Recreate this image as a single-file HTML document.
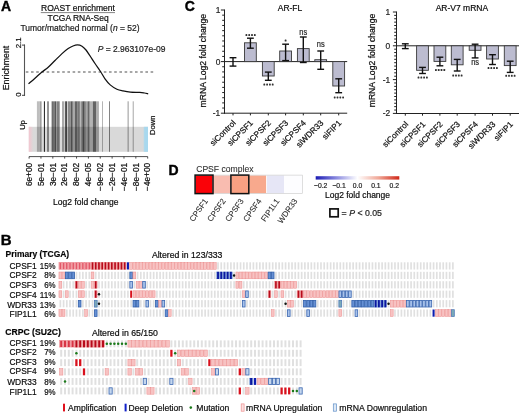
<!DOCTYPE html>
<html><head><meta charset="utf-8"><title>Figure</title>
<style>
html,body{margin:0;padding:0;background:#fff;}
body{width:520px;height:414px;overflow:hidden;}
svg{display:block;filter:blur(0.3px);}
text{font-family:"Liberation Sans", Arial, sans-serif;stroke:#222;stroke-width:0.22px;}
</style></head>
<body>
<svg width="520" height="414" viewBox="0 0 520 414">
<rect x="0" y="0" width="520" height="414" fill="#ffffff"/>
<text x="1.00" y="10.90" font-size="14.00" font-weight="bold" fill="#000" textLength="10.11" lengthAdjust="spacingAndGlyphs" style="stroke:#000;stroke-width:0.4px">A</text>
<text x="78.00" y="11.25" font-size="9.58" text-anchor="middle" textLength="74.00" lengthAdjust="spacingAndGlyphs">ROAST enrichment</text>
<line x1="40.80" y1="12.60" x2="115.00" y2="12.60" stroke="#333" stroke-width="0.6"/>
<text x="78.10" y="21.25" font-size="9.58" text-anchor="middle" textLength="61.20" lengthAdjust="spacingAndGlyphs">TCGA RNA-Seq</text>
<text x="20.5" y="30.5" font-size="9.4" fill="#1a1a1a" textLength="119" lengthAdjust="spacingAndGlyphs">Tumor/matched normal (<tspan font-style="italic">n</tspan> = 52)</text>
<line x1="24.50" y1="44.60" x2="24.50" y2="95.80" stroke="#555" stroke-width="1.1"/>
<line x1="22.00" y1="45.10" x2="25.00" y2="45.10" stroke="#444" stroke-width="1.0"/>
<line x1="22.00" y1="95.30" x2="25.00" y2="95.30" stroke="#444" stroke-width="1.0"/>
<text x="21.30" y="42.80" font-size="7.80" text-anchor="middle" transform="rotate(-90 21.30 42.80)">2.1</text>
<text x="21.30" y="94.50" font-size="7.80" text-anchor="middle" transform="rotate(-90 21.30 94.50)">0</text>
<text x="8.90" y="68.00" font-size="8.80" text-anchor="middle" transform="rotate(-90 8.90 68.00)">Enrichment</text>
<line x1="25.80" y1="72.00" x2="153.30" y2="72.00" stroke="#8a8a8a" stroke-width="1.7" stroke-dasharray="2.6 2.6"/>
<path d="M28.50 83.80 C29.58 82.87 32.75 80.17 35.00 78.20 C37.25 76.23 39.80 73.82 42.00 72.00 C44.20 70.18 46.03 69.22 48.20 67.30 C50.37 65.38 52.70 62.78 55.00 60.50 C57.30 58.22 59.80 55.60 62.00 53.60 C64.20 51.60 66.37 49.77 68.20 48.50 C70.03 47.23 71.47 46.60 73.00 46.00 C74.53 45.40 75.90 44.87 77.40 44.90 C78.90 44.93 80.57 45.35 82.00 46.20 C83.43 47.05 84.72 48.47 86.00 50.00 C87.28 51.53 88.20 53.15 89.70 55.40 C91.20 57.65 93.20 60.82 95.00 63.50 C96.80 66.18 98.83 68.95 100.50 71.50 C102.17 74.05 103.38 76.57 105.00 78.80 C106.62 81.03 108.22 83.17 110.20 84.90 C112.18 86.63 114.77 88.20 116.90 89.20 C119.03 90.20 120.75 90.42 123.00 90.90 C125.25 91.38 127.60 91.85 130.40 92.10 C133.20 92.35 137.45 92.25 139.80 92.40 C142.15 92.55 143.10 92.77 144.50 93.00 C145.90 93.23 147.58 93.67 148.20 93.80" fill="none" stroke="#111" stroke-width="1.25"/>
<text x="97.7" y="52.3" font-size="9.5" fill="#1a1a1a" textLength="67.7" lengthAdjust="spacingAndGlyphs"><tspan font-style="italic">P</tspan> = 2.963107e-09</text>
<rect x="36.90" y="101.30" width="2.80" height="50.50" fill="rgb(190,190,190)"/>
<rect x="39.70" y="101.30" width="1.90" height="50.50" fill="rgb(160,160,160)"/>
<rect x="43.90" y="101.30" width="1.10" height="50.50" fill="rgb(50,50,50)"/>
<rect x="47.10" y="101.30" width="1.80" height="50.50" fill="rgb(140,140,140)"/>
<rect x="51.60" y="101.30" width="2.30" height="50.50" fill="rgb(110,110,110)"/>
<rect x="54.30" y="101.30" width="1.60" height="50.50" fill="rgb(70,70,70)"/>
<rect x="56.30" y="101.30" width="3.40" height="50.50" fill="rgb(130,130,130)"/>
<rect x="62.00" y="101.30" width="2.40" height="50.50" fill="rgb(170,170,170)"/>
<rect x="65.10" y="101.30" width="1.90" height="50.50" fill="rgb(75,75,75)"/>
<rect x="67.60" y="101.30" width="3.20" height="50.50" fill="rgb(140,140,140)"/>
<rect x="70.80" y="101.30" width="2.00" height="50.50" fill="rgb(90,90,90)"/>
<rect x="72.80" y="101.30" width="2.00" height="50.50" fill="rgb(170,170,170)"/>
<rect x="74.80" y="101.30" width="2.90" height="50.50" fill="rgb(100,100,100)"/>
<rect x="77.70" y="101.30" width="2.00" height="50.50" fill="rgb(120,120,120)"/>
<rect x="79.70" y="101.30" width="0.70" height="50.50" fill="rgb(80,80,80)"/>
<rect x="81.20" y="101.30" width="1.90" height="50.50" fill="rgb(120,120,120)"/>
<rect x="83.10" y="101.30" width="1.60" height="50.50" fill="rgb(60,60,60)"/>
<rect x="84.70" y="101.30" width="1.50" height="50.50" fill="rgb(140,140,140)"/>
<rect x="86.20" y="101.30" width="1.90" height="50.50" fill="rgb(150,150,150)"/>
<rect x="88.10" y="101.30" width="1.60" height="50.50" fill="rgb(90,90,90)"/>
<rect x="89.70" y="101.30" width="3.10" height="50.50" fill="rgb(180,180,180)"/>
<rect x="92.80" y="101.30" width="3.20" height="50.50" fill="rgb(100,100,100)"/>
<rect x="96.00" y="101.30" width="2.90" height="50.50" fill="rgb(175,175,175)"/>
<rect x="102.10" y="101.30" width="0.70" height="50.50" fill="rgb(150,150,150)"/>
<rect x="109.30" y="101.30" width="0.70" height="50.50" fill="rgb(80,80,80)"/>
<rect x="127.50" y="101.30" width="1.30" height="50.50" fill="rgb(175,175,175)"/>
<rect x="132.80" y="101.30" width="0.70" height="50.50" fill="rgb(130,130,130)"/>
<defs><linearGradient id="gp" x1="0" x2="1"><stop offset="0" stop-color="#f4c6d0"/><stop offset="1" stop-color="#f4c6d0" stop-opacity="0"/></linearGradient><linearGradient id="gb" x1="0" x2="1"><stop offset="0" stop-color="#a8d8ee" stop-opacity="0.2"/><stop offset="0.3" stop-color="#a8d8ee"/><stop offset="1" stop-color="#a8d8ee"/></linearGradient><linearGradient id="cbar" x1="0" x2="1"><stop offset="0" stop-color="#1c1cb4"/><stop offset="0.25" stop-color="#8c8ce0"/><stop offset="0.5" stop-color="#ffffff"/><stop offset="0.75" stop-color="#f0a898"/><stop offset="1" stop-color="#d02818"/></linearGradient></defs>
<rect x="28.80" y="126.80" width="119.20" height="25.00" fill="#000" fill-opacity="0.15"/>
<rect x="28.80" y="126.80" width="4.50" height="25.00" fill="url(#gp)"/>
<rect x="143.30" y="126.80" width="4.70" height="25.00" fill="url(#gb)"/>
<text x="25.00" y="125.00" font-size="7.60" text-anchor="middle" transform="rotate(-90 25.00 125.00)">Up</text>
<text x="155.50" y="125.20" font-size="7.60" text-anchor="middle" transform="rotate(-90 155.50 125.20)">Down</text>
<line x1="29.10" y1="156.60" x2="147.70" y2="156.60" stroke="#222" stroke-width="0.8"/>
<line x1="29.10" y1="156.60" x2="29.10" y2="158.60" stroke="#222" stroke-width="0.8"/>
<text x="31.90" y="162.80" font-size="8.30" text-anchor="end" transform="rotate(-90 31.90 162.80)">6e+00</text>
<line x1="40.96" y1="156.60" x2="40.96" y2="158.60" stroke="#222" stroke-width="0.8"/>
<text x="43.76" y="162.80" font-size="8.30" text-anchor="end" transform="rotate(-90 43.76 162.80)">5e−01</text>
<line x1="52.82" y1="156.60" x2="52.82" y2="158.60" stroke="#222" stroke-width="0.8"/>
<text x="55.62" y="162.80" font-size="8.30" text-anchor="end" transform="rotate(-90 55.62 162.80)">3e−01</text>
<line x1="64.68" y1="156.60" x2="64.68" y2="158.60" stroke="#222" stroke-width="0.8"/>
<text x="67.48" y="162.80" font-size="8.30" text-anchor="end" transform="rotate(-90 67.48 162.80)">2e−01</text>
<line x1="76.54" y1="156.60" x2="76.54" y2="158.60" stroke="#222" stroke-width="0.8"/>
<text x="79.34" y="162.80" font-size="8.30" text-anchor="end" transform="rotate(-90 79.34 162.80)">8e−02</text>
<line x1="88.40" y1="156.60" x2="88.40" y2="158.60" stroke="#222" stroke-width="0.8"/>
<text x="91.20" y="162.80" font-size="8.30" text-anchor="end" transform="rotate(-90 91.20 162.80)">4e−05</text>
<line x1="100.26" y1="156.60" x2="100.26" y2="158.60" stroke="#222" stroke-width="0.8"/>
<text x="103.06" y="162.80" font-size="8.30" text-anchor="end" transform="rotate(-90 103.06 162.80)">−9e−02</text>
<line x1="112.12" y1="156.60" x2="112.12" y2="158.60" stroke="#222" stroke-width="0.8"/>
<text x="114.92" y="162.80" font-size="8.30" text-anchor="end" transform="rotate(-90 114.92 162.80)">−2e−01</text>
<line x1="123.98" y1="156.60" x2="123.98" y2="158.60" stroke="#222" stroke-width="0.8"/>
<text x="126.78" y="162.80" font-size="8.30" text-anchor="end" transform="rotate(-90 126.78 162.80)">−4e−01</text>
<line x1="135.84" y1="156.60" x2="135.84" y2="158.60" stroke="#222" stroke-width="0.8"/>
<text x="138.64" y="162.80" font-size="8.30" text-anchor="end" transform="rotate(-90 138.64 162.80)">−8e−01</text>
<line x1="147.70" y1="156.60" x2="147.70" y2="158.60" stroke="#222" stroke-width="0.8"/>
<text x="150.50" y="162.80" font-size="8.30" text-anchor="end" transform="rotate(-90 150.50 162.80)">−4e+00</text>
<text x="85.80" y="204.60" font-size="9.69" text-anchor="middle" textLength="65.40" lengthAdjust="spacingAndGlyphs">Log2 fold change</text>
<text x="184.70" y="11.00" font-size="14.00" font-weight="bold" fill="#000" textLength="10.11" lengthAdjust="spacingAndGlyphs" style="stroke:#000;stroke-width:0.4px">C</text>
<line x1="224.50" y1="9.50" x2="224.50" y2="113.70" stroke="#222" stroke-width="1.0"/>
<line x1="224.00" y1="113.20" x2="347.20" y2="113.20" stroke="#222" stroke-width="1.0"/>
<line x1="220.90" y1="10.00" x2="224.50" y2="10.00" stroke="#222" stroke-width="1.0"/>
<line x1="222.20" y1="15.16" x2="224.50" y2="15.16" stroke="#222" stroke-width="1.0"/>
<line x1="222.20" y1="20.32" x2="224.50" y2="20.32" stroke="#222" stroke-width="1.0"/>
<line x1="222.20" y1="25.48" x2="224.50" y2="25.48" stroke="#222" stroke-width="1.0"/>
<line x1="222.20" y1="30.64" x2="224.50" y2="30.64" stroke="#222" stroke-width="1.0"/>
<line x1="222.20" y1="35.80" x2="224.50" y2="35.80" stroke="#222" stroke-width="1.0"/>
<line x1="222.20" y1="40.96" x2="224.50" y2="40.96" stroke="#222" stroke-width="1.0"/>
<line x1="222.20" y1="46.12" x2="224.50" y2="46.12" stroke="#222" stroke-width="1.0"/>
<line x1="222.20" y1="51.28" x2="224.50" y2="51.28" stroke="#222" stroke-width="1.0"/>
<line x1="222.20" y1="56.44" x2="224.50" y2="56.44" stroke="#222" stroke-width="1.0"/>
<line x1="220.90" y1="61.60" x2="224.50" y2="61.60" stroke="#222" stroke-width="1.0"/>
<line x1="222.20" y1="66.76" x2="224.50" y2="66.76" stroke="#222" stroke-width="1.0"/>
<line x1="222.20" y1="71.92" x2="224.50" y2="71.92" stroke="#222" stroke-width="1.0"/>
<line x1="222.20" y1="77.08" x2="224.50" y2="77.08" stroke="#222" stroke-width="1.0"/>
<line x1="222.20" y1="82.24" x2="224.50" y2="82.24" stroke="#222" stroke-width="1.0"/>
<line x1="222.20" y1="87.40" x2="224.50" y2="87.40" stroke="#222" stroke-width="1.0"/>
<line x1="222.20" y1="92.56" x2="224.50" y2="92.56" stroke="#222" stroke-width="1.0"/>
<line x1="222.20" y1="97.72" x2="224.50" y2="97.72" stroke="#222" stroke-width="1.0"/>
<line x1="222.20" y1="102.88" x2="224.50" y2="102.88" stroke="#222" stroke-width="1.0"/>
<line x1="222.20" y1="108.04" x2="224.50" y2="108.04" stroke="#222" stroke-width="1.0"/>
<line x1="220.90" y1="113.20" x2="224.50" y2="113.20" stroke="#222" stroke-width="1.0"/>
<text x="220.30" y="13.00" font-size="9.58" text-anchor="end" fill="#222" textLength="4.67" lengthAdjust="spacingAndGlyphs">1</text>
<text x="220.30" y="64.60" font-size="9.58" text-anchor="end" fill="#222" textLength="4.67" lengthAdjust="spacingAndGlyphs">0</text>
<text x="220.30" y="116.20" font-size="9.58" text-anchor="end" fill="#222" textLength="7.47" lengthAdjust="spacingAndGlyphs">-1</text>
<line x1="224.50" y1="61.60" x2="347.20" y2="61.60" stroke="#222" stroke-width="1.0"/>
<line x1="233.00" y1="113.20" x2="233.00" y2="115.40" stroke="#222" stroke-width="1.0"/>
<line x1="250.40" y1="113.20" x2="250.40" y2="115.40" stroke="#222" stroke-width="1.0"/>
<line x1="268.30" y1="113.20" x2="268.30" y2="115.40" stroke="#222" stroke-width="1.0"/>
<line x1="285.60" y1="113.20" x2="285.60" y2="115.40" stroke="#222" stroke-width="1.0"/>
<line x1="303.30" y1="113.20" x2="303.30" y2="115.40" stroke="#222" stroke-width="1.0"/>
<line x1="320.70" y1="113.20" x2="320.70" y2="115.40" stroke="#222" stroke-width="1.0"/>
<line x1="338.70" y1="113.20" x2="338.70" y2="115.40" stroke="#222" stroke-width="1.0"/>
<text x="290.00" y="11.00" font-size="9.69" text-anchor="middle" textLength="24.56" lengthAdjust="spacingAndGlyphs">AR-FL</text>
<text x="206.00" y="60.60" font-size="8.50" text-anchor="middle" textLength="93.60" lengthAdjust="spacingAndGlyphs" transform="rotate(-90 206.00 60.60)">mRNA Log2 fold change</text>
<line x1="233.00" y1="57.70" x2="233.00" y2="66.10" stroke="#111" stroke-width="1.4"/>
<line x1="229.60" y1="57.70" x2="236.40" y2="57.70" stroke="#111" stroke-width="1.4"/>
<line x1="229.60" y1="66.10" x2="236.40" y2="66.10" stroke="#111" stroke-width="1.4"/>
<rect x="244.50" y="42.80" width="11.80" height="18.80" fill="#bcbcd0" stroke="#3a3a3a" stroke-width="0.9"/>
<line x1="250.40" y1="38.20" x2="250.40" y2="48.20" stroke="#111" stroke-width="1.4"/>
<line x1="247.00" y1="38.20" x2="253.80" y2="38.20" stroke="#111" stroke-width="1.4"/>
<line x1="247.00" y1="48.20" x2="253.80" y2="48.20" stroke="#111" stroke-width="1.4"/>
<rect x="245.50" y="34.10" width="1.8" height="2.0" rx="0.6" fill="#333"/>
<rect x="248.30" y="34.10" width="1.8" height="2.0" rx="0.6" fill="#333"/>
<rect x="251.10" y="34.10" width="1.8" height="2.0" rx="0.6" fill="#333"/>
<rect x="253.90" y="34.10" width="1.8" height="2.0" rx="0.6" fill="#333"/>
<rect x="262.40" y="61.60" width="11.80" height="14.40" fill="#bcbcd0" stroke="#3a3a3a" stroke-width="0.9"/>
<line x1="268.30" y1="72.10" x2="268.30" y2="80.30" stroke="#111" stroke-width="1.4"/>
<line x1="264.90" y1="72.10" x2="271.70" y2="72.10" stroke="#111" stroke-width="1.4"/>
<line x1="264.90" y1="80.30" x2="271.70" y2="80.30" stroke="#111" stroke-width="1.4"/>
<rect x="263.40" y="83.60" width="1.8" height="2.0" rx="0.6" fill="#333"/>
<rect x="266.20" y="83.60" width="1.8" height="2.0" rx="0.6" fill="#333"/>
<rect x="269.00" y="83.60" width="1.8" height="2.0" rx="0.6" fill="#333"/>
<rect x="271.80" y="83.60" width="1.8" height="2.0" rx="0.6" fill="#333"/>
<rect x="279.70" y="51.00" width="11.80" height="10.60" fill="#bcbcd0" stroke="#3a3a3a" stroke-width="0.9"/>
<line x1="285.60" y1="44.20" x2="285.60" y2="60.60" stroke="#111" stroke-width="1.4"/>
<line x1="282.20" y1="44.20" x2="289.00" y2="44.20" stroke="#111" stroke-width="1.4"/>
<line x1="282.20" y1="60.60" x2="289.00" y2="60.60" stroke="#111" stroke-width="1.4"/>
<rect x="284.70" y="39.50" width="1.8" height="2.0" rx="0.6" fill="#333"/>
<rect x="297.40" y="48.60" width="11.80" height="13.00" fill="#bcbcd0" stroke="#3a3a3a" stroke-width="0.9"/>
<line x1="303.30" y1="37.00" x2="303.30" y2="62.50" stroke="#111" stroke-width="1.4"/>
<line x1="299.90" y1="37.00" x2="306.70" y2="37.00" stroke="#111" stroke-width="1.4"/>
<line x1="299.90" y1="62.50" x2="306.70" y2="62.50" stroke="#111" stroke-width="1.4"/>
<text x="303.30" y="34.90" font-size="8.55" text-anchor="middle" fill="#333" textLength="7.92" lengthAdjust="spacingAndGlyphs">ns</text>
<rect x="314.80" y="59.70" width="11.80" height="1.90" fill="#bcbcd0" stroke="#3a3a3a" stroke-width="0.9"/>
<line x1="320.70" y1="51.00" x2="320.70" y2="69.30" stroke="#111" stroke-width="1.4"/>
<line x1="317.30" y1="51.00" x2="324.10" y2="51.00" stroke="#111" stroke-width="1.4"/>
<line x1="317.30" y1="69.30" x2="324.10" y2="69.30" stroke="#111" stroke-width="1.4"/>
<text x="320.70" y="47.10" font-size="8.55" text-anchor="middle" fill="#333" textLength="7.92" lengthAdjust="spacingAndGlyphs">ns</text>
<rect x="332.80" y="61.60" width="11.80" height="24.40" fill="#bcbcd0" stroke="#3a3a3a" stroke-width="0.9"/>
<line x1="338.70" y1="78.80" x2="338.70" y2="92.70" stroke="#111" stroke-width="1.4"/>
<line x1="335.30" y1="78.80" x2="342.10" y2="78.80" stroke="#111" stroke-width="1.4"/>
<line x1="335.30" y1="92.70" x2="342.10" y2="92.70" stroke="#111" stroke-width="1.4"/>
<rect x="333.80" y="96.40" width="1.8" height="2.0" rx="0.6" fill="#333"/>
<rect x="336.60" y="96.40" width="1.8" height="2.0" rx="0.6" fill="#333"/>
<rect x="339.40" y="96.40" width="1.8" height="2.0" rx="0.6" fill="#333"/>
<rect x="342.20" y="96.40" width="1.8" height="2.0" rx="0.6" fill="#333"/>
<text x="236.20" y="123.50" font-size="8.20" text-anchor="end" transform="rotate(-45 236.20 123.50)">siControl</text>
<text x="253.60" y="123.50" font-size="8.20" text-anchor="end" transform="rotate(-45 253.60 123.50)">siCPSF1</text>
<text x="271.50" y="123.50" font-size="8.20" text-anchor="end" transform="rotate(-45 271.50 123.50)">siCPSF2</text>
<text x="288.80" y="123.50" font-size="8.20" text-anchor="end" transform="rotate(-45 288.80 123.50)">siCPSF3</text>
<text x="306.50" y="123.50" font-size="8.20" text-anchor="end" transform="rotate(-45 306.50 123.50)">siCPSF4</text>
<text x="323.90" y="123.50" font-size="8.20" text-anchor="end" transform="rotate(-45 323.90 123.50)">siWDR33</text>
<text x="341.90" y="123.50" font-size="8.20" text-anchor="end" transform="rotate(-45 341.90 123.50)">siFIP1</text>
<line x1="396.50" y1="11.50" x2="396.50" y2="114.00" stroke="#222" stroke-width="1.0"/>
<line x1="396.00" y1="113.50" x2="519.00" y2="113.50" stroke="#222" stroke-width="1.0"/>
<line x1="392.90" y1="12.00" x2="396.50" y2="12.00" stroke="#222" stroke-width="1.0"/>
<line x1="394.20" y1="15.38" x2="396.50" y2="15.38" stroke="#222" stroke-width="1.0"/>
<line x1="394.20" y1="18.76" x2="396.50" y2="18.76" stroke="#222" stroke-width="1.0"/>
<line x1="394.20" y1="22.14" x2="396.50" y2="22.14" stroke="#222" stroke-width="1.0"/>
<line x1="394.20" y1="25.52" x2="396.50" y2="25.52" stroke="#222" stroke-width="1.0"/>
<line x1="394.20" y1="28.90" x2="396.50" y2="28.90" stroke="#222" stroke-width="1.0"/>
<line x1="394.20" y1="32.28" x2="396.50" y2="32.28" stroke="#222" stroke-width="1.0"/>
<line x1="394.20" y1="35.66" x2="396.50" y2="35.66" stroke="#222" stroke-width="1.0"/>
<line x1="394.20" y1="39.04" x2="396.50" y2="39.04" stroke="#222" stroke-width="1.0"/>
<line x1="394.20" y1="42.42" x2="396.50" y2="42.42" stroke="#222" stroke-width="1.0"/>
<line x1="392.90" y1="45.80" x2="396.50" y2="45.80" stroke="#222" stroke-width="1.0"/>
<line x1="394.20" y1="49.18" x2="396.50" y2="49.18" stroke="#222" stroke-width="1.0"/>
<line x1="394.20" y1="52.56" x2="396.50" y2="52.56" stroke="#222" stroke-width="1.0"/>
<line x1="394.20" y1="55.94" x2="396.50" y2="55.94" stroke="#222" stroke-width="1.0"/>
<line x1="394.20" y1="59.32" x2="396.50" y2="59.32" stroke="#222" stroke-width="1.0"/>
<line x1="394.20" y1="62.70" x2="396.50" y2="62.70" stroke="#222" stroke-width="1.0"/>
<line x1="394.20" y1="66.08" x2="396.50" y2="66.08" stroke="#222" stroke-width="1.0"/>
<line x1="394.20" y1="69.46" x2="396.50" y2="69.46" stroke="#222" stroke-width="1.0"/>
<line x1="394.20" y1="72.84" x2="396.50" y2="72.84" stroke="#222" stroke-width="1.0"/>
<line x1="394.20" y1="76.22" x2="396.50" y2="76.22" stroke="#222" stroke-width="1.0"/>
<line x1="392.90" y1="79.60" x2="396.50" y2="79.60" stroke="#222" stroke-width="1.0"/>
<line x1="394.20" y1="82.98" x2="396.50" y2="82.98" stroke="#222" stroke-width="1.0"/>
<line x1="394.20" y1="86.36" x2="396.50" y2="86.36" stroke="#222" stroke-width="1.0"/>
<line x1="394.20" y1="89.74" x2="396.50" y2="89.74" stroke="#222" stroke-width="1.0"/>
<line x1="394.20" y1="93.12" x2="396.50" y2="93.12" stroke="#222" stroke-width="1.0"/>
<line x1="394.20" y1="96.50" x2="396.50" y2="96.50" stroke="#222" stroke-width="1.0"/>
<line x1="394.20" y1="99.88" x2="396.50" y2="99.88" stroke="#222" stroke-width="1.0"/>
<line x1="394.20" y1="103.26" x2="396.50" y2="103.26" stroke="#222" stroke-width="1.0"/>
<line x1="394.20" y1="106.64" x2="396.50" y2="106.64" stroke="#222" stroke-width="1.0"/>
<line x1="394.20" y1="110.02" x2="396.50" y2="110.02" stroke="#222" stroke-width="1.0"/>
<line x1="392.90" y1="113.40" x2="396.50" y2="113.40" stroke="#222" stroke-width="1.0"/>
<text x="390.10" y="15.00" font-size="9.58" text-anchor="end" fill="#222" textLength="4.67" lengthAdjust="spacingAndGlyphs">1</text>
<text x="390.10" y="48.80" font-size="9.58" text-anchor="end" fill="#222" textLength="4.67" lengthAdjust="spacingAndGlyphs">0</text>
<text x="390.10" y="82.60" font-size="9.58" text-anchor="end" fill="#222" textLength="7.47" lengthAdjust="spacingAndGlyphs">-1</text>
<text x="390.10" y="116.40" font-size="9.58" text-anchor="end" fill="#222" textLength="7.47" lengthAdjust="spacingAndGlyphs">-2</text>
<line x1="396.50" y1="45.80" x2="519.00" y2="45.80" stroke="#222" stroke-width="1.0"/>
<line x1="405.30" y1="113.50" x2="405.30" y2="115.70" stroke="#222" stroke-width="1.0"/>
<line x1="422.50" y1="113.50" x2="422.50" y2="115.70" stroke="#222" stroke-width="1.0"/>
<line x1="439.90" y1="113.50" x2="439.90" y2="115.70" stroke="#222" stroke-width="1.0"/>
<line x1="457.20" y1="113.50" x2="457.20" y2="115.70" stroke="#222" stroke-width="1.0"/>
<line x1="475.10" y1="113.50" x2="475.10" y2="115.70" stroke="#222" stroke-width="1.0"/>
<line x1="492.50" y1="113.50" x2="492.50" y2="115.70" stroke="#222" stroke-width="1.0"/>
<line x1="510.20" y1="113.50" x2="510.20" y2="115.70" stroke="#222" stroke-width="1.0"/>
<text x="461.90" y="11.00" font-size="9.69" text-anchor="middle" textLength="52.42" lengthAdjust="spacingAndGlyphs">AR-V7 mRNA</text>
<text x="375.20" y="60.50" font-size="8.50" text-anchor="middle" textLength="93.60" lengthAdjust="spacingAndGlyphs" transform="rotate(-90 375.20 60.50)">mRNA Log2 fold change</text>
<line x1="405.30" y1="43.80" x2="405.30" y2="48.60" stroke="#111" stroke-width="1.4"/>
<line x1="401.90" y1="43.80" x2="408.70" y2="43.80" stroke="#111" stroke-width="1.4"/>
<line x1="401.90" y1="48.60" x2="408.70" y2="48.60" stroke="#111" stroke-width="1.4"/>
<rect x="416.60" y="45.80" width="11.80" height="24.50" fill="#bcbcd0" stroke="#3a3a3a" stroke-width="0.9"/>
<line x1="422.50" y1="67.40" x2="422.50" y2="73.50" stroke="#111" stroke-width="1.4"/>
<line x1="419.10" y1="67.40" x2="425.90" y2="67.40" stroke="#111" stroke-width="1.4"/>
<line x1="419.10" y1="73.50" x2="425.90" y2="73.50" stroke="#111" stroke-width="1.4"/>
<rect x="417.60" y="76.60" width="1.8" height="2.0" rx="0.6" fill="#333"/>
<rect x="420.40" y="76.60" width="1.8" height="2.0" rx="0.6" fill="#333"/>
<rect x="423.20" y="76.60" width="1.8" height="2.0" rx="0.6" fill="#333"/>
<rect x="426.00" y="76.60" width="1.8" height="2.0" rx="0.6" fill="#333"/>
<rect x="434.00" y="45.80" width="11.80" height="15.60" fill="#bcbcd0" stroke="#3a3a3a" stroke-width="0.9"/>
<line x1="439.90" y1="57.20" x2="439.90" y2="65.80" stroke="#111" stroke-width="1.4"/>
<line x1="436.50" y1="57.20" x2="443.30" y2="57.20" stroke="#111" stroke-width="1.4"/>
<line x1="436.50" y1="65.80" x2="443.30" y2="65.80" stroke="#111" stroke-width="1.4"/>
<rect x="435.00" y="69.00" width="1.8" height="2.0" rx="0.6" fill="#333"/>
<rect x="437.80" y="69.00" width="1.8" height="2.0" rx="0.6" fill="#333"/>
<rect x="440.60" y="69.00" width="1.8" height="2.0" rx="0.6" fill="#333"/>
<rect x="443.40" y="69.00" width="1.8" height="2.0" rx="0.6" fill="#333"/>
<rect x="451.30" y="45.80" width="11.80" height="19.00" fill="#bcbcd0" stroke="#3a3a3a" stroke-width="0.9"/>
<line x1="457.20" y1="59.40" x2="457.20" y2="71.00" stroke="#111" stroke-width="1.4"/>
<line x1="453.80" y1="59.40" x2="460.60" y2="59.40" stroke="#111" stroke-width="1.4"/>
<line x1="453.80" y1="71.00" x2="460.60" y2="71.00" stroke="#111" stroke-width="1.4"/>
<rect x="452.30" y="74.50" width="1.8" height="2.0" rx="0.6" fill="#333"/>
<rect x="455.10" y="74.50" width="1.8" height="2.0" rx="0.6" fill="#333"/>
<rect x="457.90" y="74.50" width="1.8" height="2.0" rx="0.6" fill="#333"/>
<rect x="460.70" y="74.50" width="1.8" height="2.0" rx="0.6" fill="#333"/>
<rect x="469.20" y="45.80" width="11.80" height="4.50" fill="#bcbcd0" stroke="#3a3a3a" stroke-width="0.9"/>
<line x1="475.10" y1="44.20" x2="475.10" y2="57.90" stroke="#111" stroke-width="1.4"/>
<line x1="471.70" y1="44.20" x2="478.50" y2="44.20" stroke="#111" stroke-width="1.4"/>
<line x1="471.70" y1="57.90" x2="478.50" y2="57.90" stroke="#111" stroke-width="1.4"/>
<text x="475.10" y="65.30" font-size="8.55" text-anchor="middle" fill="#333" textLength="7.92" lengthAdjust="spacingAndGlyphs">ns</text>
<rect x="486.60" y="45.80" width="11.80" height="13.20" fill="#bcbcd0" stroke="#3a3a3a" stroke-width="0.9"/>
<line x1="492.50" y1="54.70" x2="492.50" y2="64.50" stroke="#111" stroke-width="1.4"/>
<line x1="489.10" y1="54.70" x2="495.90" y2="54.70" stroke="#111" stroke-width="1.4"/>
<line x1="489.10" y1="64.50" x2="495.90" y2="64.50" stroke="#111" stroke-width="1.4"/>
<rect x="487.60" y="67.10" width="1.8" height="2.0" rx="0.6" fill="#333"/>
<rect x="490.40" y="67.10" width="1.8" height="2.0" rx="0.6" fill="#333"/>
<rect x="493.20" y="67.10" width="1.8" height="2.0" rx="0.6" fill="#333"/>
<rect x="496.00" y="67.10" width="1.8" height="2.0" rx="0.6" fill="#333"/>
<rect x="504.30" y="45.80" width="11.80" height="19.80" fill="#bcbcd0" stroke="#3a3a3a" stroke-width="0.9"/>
<line x1="510.20" y1="61.20" x2="510.20" y2="72.40" stroke="#111" stroke-width="1.4"/>
<line x1="506.80" y1="61.20" x2="513.60" y2="61.20" stroke="#111" stroke-width="1.4"/>
<line x1="506.80" y1="72.40" x2="513.60" y2="72.40" stroke="#111" stroke-width="1.4"/>
<rect x="505.30" y="74.80" width="1.8" height="2.0" rx="0.6" fill="#333"/>
<rect x="508.10" y="74.80" width="1.8" height="2.0" rx="0.6" fill="#333"/>
<rect x="510.90" y="74.80" width="1.8" height="2.0" rx="0.6" fill="#333"/>
<rect x="513.70" y="74.80" width="1.8" height="2.0" rx="0.6" fill="#333"/>
<text x="408.70" y="124.80" font-size="8.20" text-anchor="end" transform="rotate(-45 408.70 124.80)">siControl</text>
<text x="425.90" y="124.80" font-size="8.20" text-anchor="end" transform="rotate(-45 425.90 124.80)">siCPSF1</text>
<text x="443.30" y="124.80" font-size="8.20" text-anchor="end" transform="rotate(-45 443.30 124.80)">siCPSF2</text>
<text x="460.60" y="124.80" font-size="8.20" text-anchor="end" transform="rotate(-45 460.60 124.80)">siCPSF3</text>
<text x="478.50" y="124.80" font-size="8.20" text-anchor="end" transform="rotate(-45 478.50 124.80)">siCPSF4</text>
<text x="495.90" y="124.80" font-size="8.20" text-anchor="end" transform="rotate(-45 495.90 124.80)">siWDR33</text>
<text x="513.60" y="124.80" font-size="8.20" text-anchor="end" transform="rotate(-45 513.60 124.80)">siFIP1</text>
<text x="168.60" y="175.40" font-size="14.00" font-weight="bold" fill="#000" textLength="10.11" lengthAdjust="spacingAndGlyphs" style="stroke:#000;stroke-width:0.4px">D</text>
<text x="196.20" y="171.90" font-size="9.58" fill="#333" textLength="57.30" lengthAdjust="spacingAndGlyphs" style="stroke-width:0.1px">CPSF complex</text>
<rect x="195.10" y="175.10" width="17.90" height="18.50" fill="#fa0208" stroke="#ffffff" stroke-width="0.6"/>
<rect x="213.00" y="175.10" width="17.90" height="18.50" fill="#f9bcb0" stroke="#ffffff" stroke-width="0.6"/>
<rect x="230.90" y="175.10" width="17.90" height="18.50" fill="#f9a082" stroke="#ffffff" stroke-width="0.6"/>
<rect x="248.80" y="175.10" width="17.90" height="18.50" fill="#f8a98d" stroke="#ffffff" stroke-width="0.6"/>
<rect x="266.70" y="175.10" width="17.90" height="18.50" fill="#e6e6f6" stroke="#ffffff" stroke-width="0.6"/>
<rect x="284.60" y="175.10" width="17.90" height="18.50" fill="#fdfdff" stroke="#ffffff" stroke-width="0.6"/>
<rect x="195.10" y="175.10" width="107.40" height="18.50" fill="none" stroke="#c8c8c8" stroke-width="0.6"/>
<rect x="195.10" y="175.10" width="17.90" height="18.50" fill="none" stroke="#111" stroke-width="1.5"/>
<rect x="230.90" y="175.10" width="17.90" height="18.50" fill="none" stroke="#111" stroke-width="1.5"/>
<text x="208.25" y="201.00" font-size="8.00" text-anchor="end" fill="#2a2a2a" transform="rotate(-55 208.25 201.00)" style="stroke-width:0.08px">CPSF1</text>
<text x="226.15" y="201.00" font-size="8.00" text-anchor="end" fill="#2a2a2a" transform="rotate(-55 226.15 201.00)" style="stroke-width:0.08px">CPSF2</text>
<text x="244.05" y="201.00" font-size="8.00" text-anchor="end" fill="#2a2a2a" transform="rotate(-55 244.05 201.00)" style="stroke-width:0.08px">CPSF3</text>
<text x="261.95" y="201.00" font-size="8.00" text-anchor="end" fill="#2a2a2a" transform="rotate(-55 261.95 201.00)" style="stroke-width:0.08px">CPSF4</text>
<text x="279.85" y="201.00" font-size="8.00" text-anchor="end" fill="#2a2a2a" transform="rotate(-55 279.85 201.00)" style="stroke-width:0.08px">FIP1L1</text>
<text x="297.75" y="201.00" font-size="8.00" text-anchor="end" fill="#2a2a2a" transform="rotate(-55 297.75 201.00)" style="stroke-width:0.08px">WDR33</text>
<rect x="315.70" y="176.20" width="83.60" height="3.40" fill="url(#cbar)"/>
<text x="320.70" y="188.00" font-size="7.75" text-anchor="middle" fill="#222" textLength="13.42" lengthAdjust="spacingAndGlyphs">−0.2</text>
<text x="339.10" y="188.00" font-size="7.75" text-anchor="middle" fill="#222" textLength="13.42" lengthAdjust="spacingAndGlyphs">−0.1</text>
<text x="357.50" y="188.00" font-size="7.75" text-anchor="middle" fill="#222" textLength="9.45" lengthAdjust="spacingAndGlyphs">0.0</text>
<text x="375.90" y="188.00" font-size="7.75" text-anchor="middle" fill="#222" textLength="9.45" lengthAdjust="spacingAndGlyphs">0.1</text>
<text x="394.30" y="188.00" font-size="7.75" text-anchor="middle" fill="#222" textLength="9.45" lengthAdjust="spacingAndGlyphs">0.2</text>
<text x="357.50" y="198.20" font-size="9.58" text-anchor="middle" textLength="65.00" lengthAdjust="spacingAndGlyphs">Log2 fold change</text>
<rect x="329.90" y="208.90" width="8.30" height="7.90" fill="none" stroke="#111" stroke-width="1.7"/>
<text x="341.6" y="215.7" font-size="9.5" fill="#1a1a1a" textLength="40.4" lengthAdjust="spacingAndGlyphs">= <tspan font-style="italic">P</tspan> &lt; 0.05</text>
<text x="0.80" y="245.00" font-size="15.00" font-weight="bold" fill="#000" textLength="10.83" lengthAdjust="spacingAndGlyphs" style="stroke:#000;stroke-width:0.4px">B</text>
<text x="5.60" y="257.40" font-size="9.58" font-weight="bold" textLength="63.60" lengthAdjust="spacingAndGlyphs">Primary (TCGA)</text>
<text x="151.90" y="258.00" font-size="9.69" textLength="70.50" lengthAdjust="spacingAndGlyphs">Altered in 123/333</text>
<text x="5.30" y="334.70" font-size="9.58" font-weight="bold" textLength="55.50" lengthAdjust="spacingAndGlyphs">CRPC (SU2C)</text>
<text x="91.90" y="335.50" font-size="9.69" textLength="66.00" lengthAdjust="spacingAndGlyphs">Altered in 65/150</text>
<text x="36.60" y="268.80" font-size="9.69" text-anchor="end" textLength="27.07" lengthAdjust="spacingAndGlyphs">CPSF1</text>
<text x="55.60" y="268.80" font-size="9.69" text-anchor="end" textLength="15.81" lengthAdjust="spacingAndGlyphs">15%</text>
<text x="36.60" y="346.40" font-size="9.69" text-anchor="end" textLength="27.07" lengthAdjust="spacingAndGlyphs">CPSF1</text>
<text x="55.60" y="346.40" font-size="9.69" text-anchor="end" textLength="15.81" lengthAdjust="spacingAndGlyphs">19%</text>
<text x="36.60" y="278.20" font-size="9.69" text-anchor="end" textLength="27.07" lengthAdjust="spacingAndGlyphs">CPSF2</text>
<text x="55.60" y="278.20" font-size="9.69" text-anchor="end" textLength="11.42" lengthAdjust="spacingAndGlyphs">8%</text>
<text x="36.60" y="355.40" font-size="9.69" text-anchor="end" textLength="27.07" lengthAdjust="spacingAndGlyphs">CPSF2</text>
<text x="55.60" y="355.40" font-size="9.69" text-anchor="end" textLength="11.42" lengthAdjust="spacingAndGlyphs">7%</text>
<text x="36.60" y="288.00" font-size="9.69" text-anchor="end" textLength="27.07" lengthAdjust="spacingAndGlyphs">CPSF3</text>
<text x="55.60" y="288.00" font-size="9.69" text-anchor="end" textLength="11.42" lengthAdjust="spacingAndGlyphs">6%</text>
<text x="36.60" y="364.80" font-size="9.69" text-anchor="end" textLength="27.07" lengthAdjust="spacingAndGlyphs">CPSF3</text>
<text x="55.60" y="364.80" font-size="9.69" text-anchor="end" textLength="11.42" lengthAdjust="spacingAndGlyphs">9%</text>
<text x="36.60" y="298.00" font-size="9.69" text-anchor="end" textLength="27.07" lengthAdjust="spacingAndGlyphs">CPSF4</text>
<text x="55.60" y="298.00" font-size="9.69" text-anchor="end" textLength="15.81" lengthAdjust="spacingAndGlyphs">11%</text>
<text x="36.60" y="374.20" font-size="9.69" text-anchor="end" textLength="27.07" lengthAdjust="spacingAndGlyphs">CPSF4</text>
<text x="55.60" y="374.20" font-size="9.69" text-anchor="end" textLength="11.42" lengthAdjust="spacingAndGlyphs">9%</text>
<text x="36.60" y="307.60" font-size="9.69" text-anchor="end" textLength="29.40" lengthAdjust="spacingAndGlyphs">WDR33</text>
<text x="55.60" y="307.60" font-size="9.69" text-anchor="end" textLength="15.81" lengthAdjust="spacingAndGlyphs">13%</text>
<text x="36.60" y="385.40" font-size="9.69" text-anchor="end" textLength="29.40" lengthAdjust="spacingAndGlyphs">WDR33</text>
<text x="55.60" y="385.40" font-size="9.69" text-anchor="end" textLength="11.42" lengthAdjust="spacingAndGlyphs">8%</text>
<text x="36.60" y="317.20" font-size="9.69" text-anchor="end" textLength="27.08" lengthAdjust="spacingAndGlyphs">FIP1L1</text>
<text x="55.60" y="317.20" font-size="9.69" text-anchor="end" textLength="11.42" lengthAdjust="spacingAndGlyphs">6%</text>
<text x="36.60" y="394.70" font-size="9.69" text-anchor="end" textLength="27.08" lengthAdjust="spacingAndGlyphs">FIP1L1</text>
<text x="55.60" y="394.70" font-size="9.69" text-anchor="end" textLength="11.42" lengthAdjust="spacingAndGlyphs">9%</text>
<rect x="58.95" y="262.50" width="2.82" height="6.80" fill="#f6b4b8" stroke="#ec8088" stroke-width="0.5"/>
<rect x="59.62" y="262.70" width="1.47" height="6.40" fill="#e25868"/>
<rect x="62.17" y="262.50" width="2.82" height="6.80" fill="#f6b4b8" stroke="#ec8088" stroke-width="0.5"/>
<rect x="62.84" y="262.70" width="1.47" height="6.40" fill="#e25868"/>
<rect x="65.38" y="262.50" width="2.82" height="6.80" fill="#f6b4b8" stroke="#ec8088" stroke-width="0.5"/>
<rect x="66.06" y="262.70" width="1.47" height="6.40" fill="#e25868"/>
<rect x="68.60" y="262.50" width="2.82" height="6.80" fill="#f6b4b8" stroke="#ec8088" stroke-width="0.5"/>
<rect x="69.27" y="262.70" width="1.47" height="6.40" fill="#e25868"/>
<rect x="71.82" y="262.50" width="2.82" height="6.80" fill="#f6b4b8" stroke="#ec8088" stroke-width="0.5"/>
<rect x="72.49" y="262.70" width="1.47" height="6.40" fill="#e25868"/>
<rect x="75.04" y="262.50" width="2.82" height="6.80" fill="#f6b4b8" stroke="#ec8088" stroke-width="0.5"/>
<rect x="75.71" y="262.70" width="1.47" height="6.40" fill="#e25868"/>
<rect x="78.25" y="262.50" width="2.82" height="6.80" fill="#f6b4b8" stroke="#ec8088" stroke-width="0.5"/>
<rect x="78.93" y="262.70" width="1.47" height="6.40" fill="#e25868"/>
<rect x="81.47" y="262.50" width="2.82" height="6.80" fill="#f6b4b8" stroke="#ec8088" stroke-width="0.5"/>
<rect x="82.14" y="262.70" width="1.47" height="6.40" fill="#e25868"/>
<rect x="84.69" y="262.50" width="2.82" height="6.80" fill="#f6b4b8" stroke="#ec8088" stroke-width="0.5"/>
<rect x="85.36" y="262.70" width="1.47" height="6.40" fill="#e25868"/>
<rect x="87.91" y="262.50" width="2.82" height="6.80" fill="#f6b4b8" stroke="#ec8088" stroke-width="0.5"/>
<rect x="88.58" y="262.70" width="1.47" height="6.40" fill="#e25868"/>
<rect x="91.12" y="262.50" width="2.82" height="6.80" fill="#f6b8b8" stroke="#ec8c8c" stroke-width="0.5"/>
<rect x="91.70" y="262.30" width="1.67" height="7.20" fill="#b80a1a"/>
<rect x="94.34" y="262.50" width="2.82" height="6.80" fill="#f6b8b8" stroke="#ec8c8c" stroke-width="0.5"/>
<rect x="94.91" y="262.30" width="1.67" height="7.20" fill="#b80a1a"/>
<rect x="97.56" y="262.50" width="2.82" height="6.80" fill="#f6b8b8" stroke="#ec8c8c" stroke-width="0.5"/>
<rect x="98.13" y="262.30" width="1.67" height="7.20" fill="#b80a1a"/>
<rect x="100.78" y="262.50" width="2.82" height="6.80" fill="#f6b8b8" stroke="#ec8c8c" stroke-width="0.5"/>
<rect x="101.35" y="262.30" width="1.67" height="7.20" fill="#b80a1a"/>
<rect x="103.99" y="262.50" width="2.82" height="6.80" fill="#f6b8b8" stroke="#ec8c8c" stroke-width="0.5"/>
<rect x="104.57" y="262.30" width="1.67" height="7.20" fill="#b80a1a"/>
<rect x="107.21" y="262.50" width="2.82" height="6.80" fill="#f6b8b8" stroke="#ec8c8c" stroke-width="0.5"/>
<rect x="107.78" y="262.30" width="1.67" height="7.20" fill="#b80a1a"/>
<rect x="110.43" y="262.50" width="2.82" height="6.80" fill="#f6b8b8" stroke="#ec8c8c" stroke-width="0.5"/>
<rect x="111.00" y="262.30" width="1.67" height="7.20" fill="#b80a1a"/>
<rect x="113.65" y="262.50" width="2.82" height="6.80" fill="#f6b8b8" stroke="#ec8c8c" stroke-width="0.5"/>
<rect x="114.22" y="262.30" width="1.67" height="7.20" fill="#b80a1a"/>
<rect x="116.86" y="262.50" width="2.82" height="6.80" fill="#f6b8b8" stroke="#ec8c8c" stroke-width="0.5"/>
<rect x="117.44" y="262.30" width="1.67" height="7.20" fill="#b80a1a"/>
<rect x="120.08" y="262.50" width="2.82" height="6.80" fill="#f6b8b8" stroke="#ec8c8c" stroke-width="0.5"/>
<rect x="120.65" y="262.30" width="1.67" height="7.20" fill="#b80a1a"/>
<rect x="123.30" y="262.50" width="2.82" height="6.80" fill="#f6b8b8" stroke="#ec8c8c" stroke-width="0.5"/>
<rect x="123.87" y="262.30" width="1.67" height="7.20" fill="#b80a1a"/>
<rect x="126.89" y="262.30" width="2.07" height="7.20" fill="#0c1cb0"/>
<rect x="129.73" y="262.50" width="2.82" height="6.80" fill="#f7c2c2" stroke="#ec8c8c" stroke-width="0.5"/>
<rect x="132.95" y="262.50" width="2.82" height="6.80" fill="#f7c2c2" stroke="#ec8c8c" stroke-width="0.5"/>
<rect x="136.17" y="262.50" width="2.82" height="6.80" fill="#f7c2c2" stroke="#ec8c8c" stroke-width="0.5"/>
<rect x="139.39" y="262.50" width="2.82" height="6.80" fill="#f7c2c2" stroke="#ec8c8c" stroke-width="0.5"/>
<rect x="142.60" y="262.50" width="2.82" height="6.80" fill="#f7c2c2" stroke="#ec8c8c" stroke-width="0.5"/>
<rect x="145.82" y="262.50" width="2.82" height="6.80" fill="#f7c2c2" stroke="#ec8c8c" stroke-width="0.5"/>
<rect x="149.04" y="262.50" width="2.82" height="6.80" fill="#f7c2c2" stroke="#ec8c8c" stroke-width="0.5"/>
<rect x="152.26" y="262.50" width="2.82" height="6.80" fill="#f7c2c2" stroke="#ec8c8c" stroke-width="0.5"/>
<rect x="155.47" y="262.50" width="2.82" height="6.80" fill="#f7c2c2" stroke="#ec8c8c" stroke-width="0.5"/>
<rect x="158.69" y="262.50" width="2.82" height="6.80" fill="#f7c2c2" stroke="#ec8c8c" stroke-width="0.5"/>
<rect x="161.91" y="262.50" width="2.82" height="6.80" fill="#f7c2c2" stroke="#ec8c8c" stroke-width="0.5"/>
<rect x="165.13" y="262.50" width="2.82" height="6.80" fill="#f7c2c2" stroke="#ec8c8c" stroke-width="0.5"/>
<rect x="168.34" y="262.50" width="2.82" height="6.80" fill="#f7c2c2" stroke="#ec8c8c" stroke-width="0.5"/>
<rect x="171.56" y="262.50" width="2.82" height="6.80" fill="#f7c2c2" stroke="#ec8c8c" stroke-width="0.5"/>
<rect x="174.78" y="262.50" width="2.82" height="6.80" fill="#f7c2c2" stroke="#ec8c8c" stroke-width="0.5"/>
<rect x="178.00" y="262.50" width="2.82" height="6.80" fill="#f7c2c2" stroke="#ec8c8c" stroke-width="0.5"/>
<rect x="181.21" y="262.50" width="2.82" height="6.80" fill="#f7c2c2" stroke="#ec8c8c" stroke-width="0.5"/>
<rect x="184.43" y="262.50" width="2.82" height="6.80" fill="#f7c2c2" stroke="#ec8c8c" stroke-width="0.5"/>
<rect x="187.65" y="262.50" width="2.82" height="6.80" fill="#f7c2c2" stroke="#ec8c8c" stroke-width="0.5"/>
<rect x="190.87" y="262.50" width="2.82" height="6.80" fill="#f7c2c2" stroke="#ec8c8c" stroke-width="0.5"/>
<rect x="194.08" y="262.50" width="2.82" height="6.80" fill="#f7c2c2" stroke="#ec8c8c" stroke-width="0.5"/>
<rect x="197.30" y="262.50" width="2.82" height="6.80" fill="#f7c2c2" stroke="#ec8c8c" stroke-width="0.5"/>
<rect x="200.52" y="262.50" width="2.82" height="6.80" fill="#f7c2c2" stroke="#ec8c8c" stroke-width="0.5"/>
<rect x="203.74" y="262.50" width="2.82" height="6.80" fill="#f7c2c2" stroke="#ec8c8c" stroke-width="0.5"/>
<rect x="206.95" y="262.50" width="2.82" height="6.80" fill="#f7c2c2" stroke="#ec8c8c" stroke-width="0.5"/>
<rect x="210.17" y="262.50" width="2.82" height="6.80" fill="#f7c2c2" stroke="#ec8c8c" stroke-width="0.5"/>
<rect x="213.39" y="262.50" width="2.82" height="6.80" fill="#f7c2c2" stroke="#ec8c8c" stroke-width="0.5"/>
<rect x="217.18" y="262.30" width="1.67" height="7.20" fill="#e0e0e0"/>
<rect x="220.40" y="262.30" width="1.67" height="7.20" fill="#e0e0e0"/>
<rect x="223.61" y="262.30" width="1.67" height="7.20" fill="#e0e0e0"/>
<rect x="226.83" y="262.30" width="1.67" height="7.20" fill="#e0e0e0"/>
<rect x="230.05" y="262.30" width="1.67" height="7.20" fill="#e0e0e0"/>
<rect x="233.27" y="262.30" width="1.67" height="7.20" fill="#e0e0e0"/>
<rect x="236.48" y="262.30" width="1.67" height="7.20" fill="#e0e0e0"/>
<rect x="239.70" y="262.30" width="1.67" height="7.20" fill="#e0e0e0"/>
<rect x="242.92" y="262.30" width="1.67" height="7.20" fill="#e0e0e0"/>
<rect x="246.14" y="262.30" width="1.67" height="7.20" fill="#e0e0e0"/>
<rect x="249.35" y="262.30" width="1.67" height="7.20" fill="#e0e0e0"/>
<rect x="252.57" y="262.30" width="1.67" height="7.20" fill="#e0e0e0"/>
<rect x="255.79" y="262.30" width="1.67" height="7.20" fill="#e0e0e0"/>
<rect x="259.01" y="262.30" width="1.67" height="7.20" fill="#e0e0e0"/>
<rect x="262.22" y="262.30" width="1.67" height="7.20" fill="#e0e0e0"/>
<rect x="265.44" y="262.30" width="1.67" height="7.20" fill="#e0e0e0"/>
<rect x="268.66" y="262.30" width="1.67" height="7.20" fill="#e0e0e0"/>
<rect x="271.88" y="262.30" width="1.67" height="7.20" fill="#e0e0e0"/>
<rect x="275.09" y="262.30" width="1.67" height="7.20" fill="#e0e0e0"/>
<rect x="278.31" y="262.30" width="1.67" height="7.20" fill="#e0e0e0"/>
<rect x="281.53" y="262.30" width="1.67" height="7.20" fill="#e0e0e0"/>
<rect x="284.75" y="262.30" width="1.67" height="7.20" fill="#e0e0e0"/>
<rect x="287.96" y="262.30" width="1.67" height="7.20" fill="#e0e0e0"/>
<rect x="291.18" y="262.30" width="1.67" height="7.20" fill="#e0e0e0"/>
<rect x="294.40" y="262.30" width="1.67" height="7.20" fill="#e0e0e0"/>
<rect x="297.62" y="262.30" width="1.67" height="7.20" fill="#e0e0e0"/>
<rect x="300.83" y="262.30" width="1.67" height="7.20" fill="#e0e0e0"/>
<rect x="304.05" y="262.30" width="1.67" height="7.20" fill="#e0e0e0"/>
<rect x="307.27" y="262.30" width="1.67" height="7.20" fill="#e0e0e0"/>
<rect x="310.49" y="262.30" width="1.67" height="7.20" fill="#e0e0e0"/>
<rect x="313.70" y="262.30" width="1.67" height="7.20" fill="#e0e0e0"/>
<rect x="316.92" y="262.30" width="1.67" height="7.20" fill="#e0e0e0"/>
<rect x="320.14" y="262.30" width="1.67" height="7.20" fill="#e0e0e0"/>
<rect x="323.36" y="262.30" width="1.67" height="7.20" fill="#e0e0e0"/>
<rect x="326.57" y="262.30" width="1.67" height="7.20" fill="#e0e0e0"/>
<rect x="329.79" y="262.30" width="1.67" height="7.20" fill="#e0e0e0"/>
<rect x="333.01" y="262.30" width="1.67" height="7.20" fill="#e0e0e0"/>
<rect x="336.23" y="262.30" width="1.67" height="7.20" fill="#e0e0e0"/>
<rect x="339.44" y="262.30" width="1.67" height="7.20" fill="#e0e0e0"/>
<rect x="342.66" y="262.30" width="1.67" height="7.20" fill="#e0e0e0"/>
<rect x="345.88" y="262.30" width="1.67" height="7.20" fill="#e0e0e0"/>
<rect x="349.10" y="262.30" width="1.67" height="7.20" fill="#e0e0e0"/>
<rect x="352.31" y="262.30" width="1.67" height="7.20" fill="#e0e0e0"/>
<rect x="355.53" y="262.30" width="1.67" height="7.20" fill="#e0e0e0"/>
<rect x="358.75" y="262.30" width="1.67" height="7.20" fill="#e0e0e0"/>
<rect x="361.97" y="262.30" width="1.67" height="7.20" fill="#e0e0e0"/>
<rect x="365.18" y="262.30" width="1.67" height="7.20" fill="#e0e0e0"/>
<rect x="368.40" y="262.30" width="1.67" height="7.20" fill="#e0e0e0"/>
<rect x="371.62" y="262.30" width="1.67" height="7.20" fill="#e0e0e0"/>
<rect x="374.84" y="262.30" width="1.67" height="7.20" fill="#e0e0e0"/>
<rect x="378.05" y="262.30" width="1.67" height="7.20" fill="#e0e0e0"/>
<rect x="381.27" y="262.30" width="1.67" height="7.20" fill="#e0e0e0"/>
<rect x="384.49" y="262.30" width="1.67" height="7.20" fill="#e0e0e0"/>
<rect x="387.71" y="262.30" width="1.67" height="7.20" fill="#e0e0e0"/>
<rect x="390.92" y="262.30" width="1.67" height="7.20" fill="#e0e0e0"/>
<rect x="394.14" y="262.30" width="1.67" height="7.20" fill="#e0e0e0"/>
<rect x="397.36" y="262.30" width="1.67" height="7.20" fill="#e0e0e0"/>
<rect x="400.58" y="262.30" width="1.67" height="7.20" fill="#e0e0e0"/>
<rect x="403.79" y="262.30" width="1.67" height="7.20" fill="#e0e0e0"/>
<rect x="407.01" y="262.30" width="1.67" height="7.20" fill="#e0e0e0"/>
<rect x="410.23" y="262.30" width="1.67" height="7.20" fill="#e0e0e0"/>
<rect x="413.44" y="262.30" width="1.67" height="7.20" fill="#e0e0e0"/>
<rect x="416.66" y="262.30" width="1.67" height="7.20" fill="#e0e0e0"/>
<rect x="419.88" y="262.30" width="1.67" height="7.20" fill="#e0e0e0"/>
<rect x="423.10" y="262.30" width="1.67" height="7.20" fill="#e0e0e0"/>
<rect x="426.31" y="262.30" width="1.67" height="7.20" fill="#e0e0e0"/>
<rect x="429.53" y="262.30" width="1.67" height="7.20" fill="#e0e0e0"/>
<rect x="432.75" y="262.30" width="1.67" height="7.20" fill="#e0e0e0"/>
<rect x="435.97" y="262.30" width="1.67" height="7.20" fill="#e0e0e0"/>
<rect x="439.18" y="262.30" width="1.67" height="7.20" fill="#e0e0e0"/>
<rect x="442.40" y="262.30" width="1.67" height="7.20" fill="#e0e0e0"/>
<rect x="445.62" y="262.30" width="1.67" height="7.20" fill="#e0e0e0"/>
<rect x="448.84" y="262.30" width="1.67" height="7.20" fill="#e0e0e0"/>
<rect x="452.05" y="262.30" width="1.67" height="7.20" fill="#e0e0e0"/>
<rect x="58.95" y="272.00" width="2.82" height="6.80" fill="#f7c2c2" stroke="#ec8c8c" stroke-width="0.5"/>
<rect x="62.17" y="272.00" width="2.82" height="6.80" fill="#f7c2c2" stroke="#ec8c8c" stroke-width="0.5"/>
<rect x="65.48" y="272.10" width="2.62" height="6.60" fill="#6690d4" stroke="#3260aa" stroke-width="0.8"/>
<rect x="68.70" y="272.10" width="2.62" height="6.60" fill="#6690d4" stroke="#3260aa" stroke-width="0.8"/>
<rect x="71.92" y="272.10" width="2.62" height="6.60" fill="#6690d4" stroke="#3260aa" stroke-width="0.8"/>
<rect x="75.61" y="271.80" width="1.67" height="7.20" fill="#e0e0e0"/>
<rect x="78.83" y="271.80" width="1.67" height="7.20" fill="#e0e0e0"/>
<rect x="82.04" y="271.80" width="1.67" height="7.20" fill="#e0e0e0"/>
<rect x="85.26" y="271.80" width="1.67" height="7.20" fill="#e0e0e0"/>
<rect x="88.48" y="271.80" width="1.67" height="7.20" fill="#e0e0e0"/>
<rect x="91.12" y="272.00" width="2.82" height="6.80" fill="#f7c2c2" stroke="#ec8c8c" stroke-width="0.5"/>
<rect x="94.91" y="271.80" width="1.67" height="7.20" fill="#e0e0e0"/>
<rect x="98.13" y="271.80" width="1.67" height="7.20" fill="#e0e0e0"/>
<rect x="101.35" y="271.80" width="1.67" height="7.20" fill="#e0e0e0"/>
<rect x="104.57" y="271.80" width="1.67" height="7.20" fill="#e0e0e0"/>
<rect x="107.78" y="271.80" width="1.67" height="7.20" fill="#e0e0e0"/>
<rect x="111.00" y="271.80" width="1.67" height="7.20" fill="#e0e0e0"/>
<rect x="114.22" y="271.80" width="1.67" height="7.20" fill="#e0e0e0"/>
<rect x="117.44" y="271.80" width="1.67" height="7.20" fill="#e0e0e0"/>
<rect x="120.65" y="271.80" width="1.67" height="7.20" fill="#e0e0e0"/>
<rect x="123.87" y="271.80" width="1.67" height="7.20" fill="#e0e0e0"/>
<rect x="127.09" y="271.80" width="1.67" height="7.20" fill="#e0e0e0"/>
<rect x="129.83" y="272.10" width="2.62" height="6.60" fill="#6690d4" stroke="#3260aa" stroke-width="0.8"/>
<rect x="132.95" y="272.00" width="2.82" height="6.80" fill="#f7c2c2" stroke="#ec8c8c" stroke-width="0.5"/>
<rect x="136.74" y="271.80" width="1.67" height="7.20" fill="#e0e0e0"/>
<rect x="139.96" y="271.80" width="1.67" height="7.20" fill="#e0e0e0"/>
<rect x="143.18" y="271.80" width="1.67" height="7.20" fill="#e0e0e0"/>
<rect x="146.39" y="271.80" width="1.67" height="7.20" fill="#e0e0e0"/>
<rect x="149.61" y="271.80" width="1.67" height="7.20" fill="#e0e0e0"/>
<rect x="152.83" y="271.80" width="1.67" height="7.20" fill="#e0e0e0"/>
<rect x="156.05" y="271.80" width="1.67" height="7.20" fill="#e0e0e0"/>
<rect x="159.26" y="271.80" width="1.67" height="7.20" fill="#e0e0e0"/>
<rect x="162.48" y="271.80" width="1.67" height="7.20" fill="#e0e0e0"/>
<rect x="165.70" y="271.80" width="1.67" height="7.20" fill="#e0e0e0"/>
<rect x="168.92" y="271.80" width="1.67" height="7.20" fill="#e0e0e0"/>
<rect x="172.13" y="271.80" width="1.67" height="7.20" fill="#e0e0e0"/>
<rect x="175.35" y="271.80" width="1.67" height="7.20" fill="#e0e0e0"/>
<rect x="178.57" y="271.80" width="1.67" height="7.20" fill="#e0e0e0"/>
<rect x="181.79" y="271.80" width="1.67" height="7.20" fill="#e0e0e0"/>
<rect x="185.00" y="271.80" width="1.67" height="7.20" fill="#e0e0e0"/>
<rect x="188.22" y="271.80" width="1.67" height="7.20" fill="#e0e0e0"/>
<rect x="191.44" y="271.80" width="1.67" height="7.20" fill="#e0e0e0"/>
<rect x="194.66" y="271.80" width="1.67" height="7.20" fill="#e0e0e0"/>
<rect x="197.87" y="271.80" width="1.67" height="7.20" fill="#e0e0e0"/>
<rect x="201.09" y="271.80" width="1.67" height="7.20" fill="#e0e0e0"/>
<rect x="204.31" y="271.80" width="1.67" height="7.20" fill="#e0e0e0"/>
<rect x="207.53" y="271.80" width="1.67" height="7.20" fill="#e0e0e0"/>
<rect x="210.74" y="271.80" width="1.67" height="7.20" fill="#e0e0e0"/>
<rect x="213.96" y="271.80" width="1.67" height="7.20" fill="#e0e0e0"/>
<rect x="216.61" y="272.00" width="2.82" height="6.80" fill="#a8c0ea" stroke="#6a90d0" stroke-width="0.5"/>
<rect x="217.08" y="271.80" width="1.87" height="7.20" fill="#0a18a0"/>
<rect x="219.82" y="272.00" width="2.82" height="6.80" fill="#a8c0ea" stroke="#6a90d0" stroke-width="0.5"/>
<rect x="220.30" y="271.80" width="1.87" height="7.20" fill="#0a18a0"/>
<rect x="223.04" y="272.00" width="2.82" height="6.80" fill="#a8c0ea" stroke="#6a90d0" stroke-width="0.5"/>
<rect x="223.51" y="271.80" width="1.87" height="7.20" fill="#0a18a0"/>
<rect x="226.26" y="272.00" width="2.82" height="6.80" fill="#a8c0ea" stroke="#6a90d0" stroke-width="0.5"/>
<rect x="226.73" y="271.80" width="1.87" height="7.20" fill="#0a18a0"/>
<rect x="229.48" y="272.00" width="2.82" height="6.80" fill="#a8c0ea" stroke="#6a90d0" stroke-width="0.5"/>
<rect x="229.95" y="271.80" width="1.87" height="7.20" fill="#0a18a0"/>
<rect x="233.27" y="271.80" width="1.67" height="7.20" fill="#e0e0e0"/>
<circle cx="234.10" cy="275.40" r="1.25" fill="#141814"/>
<rect x="235.91" y="272.00" width="2.82" height="6.80" fill="#f7c2c2" stroke="#ec8c8c" stroke-width="0.5"/>
<rect x="239.13" y="272.00" width="2.82" height="6.80" fill="#f7c2c2" stroke="#ec8c8c" stroke-width="0.5"/>
<rect x="242.35" y="272.00" width="2.82" height="6.80" fill="#f7c2c2" stroke="#ec8c8c" stroke-width="0.5"/>
<rect x="245.56" y="272.00" width="2.82" height="6.80" fill="#f7c2c2" stroke="#ec8c8c" stroke-width="0.5"/>
<rect x="248.78" y="272.00" width="2.82" height="6.80" fill="#f7c2c2" stroke="#ec8c8c" stroke-width="0.5"/>
<rect x="252.00" y="272.00" width="2.82" height="6.80" fill="#f7c2c2" stroke="#ec8c8c" stroke-width="0.5"/>
<rect x="255.22" y="272.00" width="2.82" height="6.80" fill="#f7c2c2" stroke="#ec8c8c" stroke-width="0.5"/>
<rect x="258.43" y="272.00" width="2.82" height="6.80" fill="#f7c2c2" stroke="#ec8c8c" stroke-width="0.5"/>
<rect x="261.65" y="272.00" width="2.82" height="6.80" fill="#f7c2c2" stroke="#ec8c8c" stroke-width="0.5"/>
<rect x="264.87" y="272.00" width="2.82" height="6.80" fill="#f7c2c2" stroke="#ec8c8c" stroke-width="0.5"/>
<rect x="268.19" y="272.10" width="2.62" height="6.60" fill="#6690d4" stroke="#3260aa" stroke-width="0.8"/>
<rect x="271.40" y="272.10" width="2.62" height="6.60" fill="#6690d4" stroke="#3260aa" stroke-width="0.8"/>
<rect x="275.09" y="271.80" width="1.67" height="7.20" fill="#e0e0e0"/>
<rect x="278.31" y="271.80" width="1.67" height="7.20" fill="#e0e0e0"/>
<rect x="281.53" y="271.80" width="1.67" height="7.20" fill="#e0e0e0"/>
<rect x="284.75" y="271.80" width="1.67" height="7.20" fill="#e0e0e0"/>
<rect x="287.96" y="271.80" width="1.67" height="7.20" fill="#e0e0e0"/>
<rect x="291.18" y="271.80" width="1.67" height="7.20" fill="#e0e0e0"/>
<rect x="294.40" y="271.80" width="1.67" height="7.20" fill="#e0e0e0"/>
<rect x="297.62" y="271.80" width="1.67" height="7.20" fill="#e0e0e0"/>
<rect x="300.83" y="271.80" width="1.67" height="7.20" fill="#e0e0e0"/>
<rect x="304.05" y="271.80" width="1.67" height="7.20" fill="#e0e0e0"/>
<rect x="307.27" y="271.80" width="1.67" height="7.20" fill="#e0e0e0"/>
<rect x="310.49" y="271.80" width="1.67" height="7.20" fill="#e0e0e0"/>
<rect x="313.70" y="271.80" width="1.67" height="7.20" fill="#e0e0e0"/>
<rect x="316.92" y="271.80" width="1.67" height="7.20" fill="#e0e0e0"/>
<rect x="320.14" y="271.80" width="1.67" height="7.20" fill="#e0e0e0"/>
<rect x="323.36" y="271.80" width="1.67" height="7.20" fill="#e0e0e0"/>
<rect x="326.57" y="271.80" width="1.67" height="7.20" fill="#e0e0e0"/>
<rect x="329.79" y="271.80" width="1.67" height="7.20" fill="#e0e0e0"/>
<rect x="333.01" y="271.80" width="1.67" height="7.20" fill="#e0e0e0"/>
<rect x="336.23" y="271.80" width="1.67" height="7.20" fill="#e0e0e0"/>
<rect x="339.44" y="271.80" width="1.67" height="7.20" fill="#e0e0e0"/>
<rect x="342.66" y="271.80" width="1.67" height="7.20" fill="#e0e0e0"/>
<rect x="345.88" y="271.80" width="1.67" height="7.20" fill="#e0e0e0"/>
<rect x="349.10" y="271.80" width="1.67" height="7.20" fill="#e0e0e0"/>
<rect x="352.31" y="271.80" width="1.67" height="7.20" fill="#e0e0e0"/>
<rect x="355.53" y="271.80" width="1.67" height="7.20" fill="#e0e0e0"/>
<rect x="358.75" y="271.80" width="1.67" height="7.20" fill="#e0e0e0"/>
<rect x="361.97" y="271.80" width="1.67" height="7.20" fill="#e0e0e0"/>
<rect x="365.18" y="271.80" width="1.67" height="7.20" fill="#e0e0e0"/>
<rect x="368.40" y="271.80" width="1.67" height="7.20" fill="#e0e0e0"/>
<rect x="371.62" y="271.80" width="1.67" height="7.20" fill="#e0e0e0"/>
<rect x="374.84" y="271.80" width="1.67" height="7.20" fill="#e0e0e0"/>
<rect x="378.05" y="271.80" width="1.67" height="7.20" fill="#e0e0e0"/>
<rect x="381.27" y="271.80" width="1.67" height="7.20" fill="#e0e0e0"/>
<rect x="384.49" y="271.80" width="1.67" height="7.20" fill="#e0e0e0"/>
<rect x="387.71" y="271.80" width="1.67" height="7.20" fill="#e0e0e0"/>
<rect x="390.92" y="271.80" width="1.67" height="7.20" fill="#e0e0e0"/>
<rect x="394.14" y="271.80" width="1.67" height="7.20" fill="#e0e0e0"/>
<rect x="397.36" y="271.80" width="1.67" height="7.20" fill="#e0e0e0"/>
<rect x="400.58" y="271.80" width="1.67" height="7.20" fill="#e0e0e0"/>
<rect x="403.79" y="271.80" width="1.67" height="7.20" fill="#e0e0e0"/>
<rect x="407.01" y="271.80" width="1.67" height="7.20" fill="#e0e0e0"/>
<rect x="410.23" y="271.80" width="1.67" height="7.20" fill="#e0e0e0"/>
<rect x="413.44" y="271.80" width="1.67" height="7.20" fill="#e0e0e0"/>
<rect x="416.66" y="271.80" width="1.67" height="7.20" fill="#e0e0e0"/>
<rect x="419.88" y="271.80" width="1.67" height="7.20" fill="#e0e0e0"/>
<rect x="423.10" y="271.80" width="1.67" height="7.20" fill="#e0e0e0"/>
<rect x="426.31" y="271.80" width="1.67" height="7.20" fill="#e0e0e0"/>
<rect x="429.53" y="271.80" width="1.67" height="7.20" fill="#e0e0e0"/>
<rect x="432.75" y="271.80" width="1.67" height="7.20" fill="#e0e0e0"/>
<rect x="435.97" y="271.80" width="1.67" height="7.20" fill="#e0e0e0"/>
<rect x="439.18" y="271.80" width="1.67" height="7.20" fill="#e0e0e0"/>
<rect x="442.40" y="271.80" width="1.67" height="7.20" fill="#e0e0e0"/>
<rect x="445.62" y="271.80" width="1.67" height="7.20" fill="#e0e0e0"/>
<rect x="448.84" y="271.80" width="1.67" height="7.20" fill="#e0e0e0"/>
<rect x="452.05" y="271.80" width="1.67" height="7.20" fill="#e0e0e0"/>
<rect x="58.95" y="281.40" width="2.82" height="6.80" fill="#f7c2c2" stroke="#ec8c8c" stroke-width="0.5"/>
<rect x="62.74" y="281.20" width="1.67" height="7.20" fill="#e0e0e0"/>
<rect x="65.96" y="281.20" width="1.67" height="7.20" fill="#e0e0e0"/>
<rect x="69.17" y="281.20" width="1.67" height="7.20" fill="#e0e0e0"/>
<rect x="72.39" y="281.20" width="1.67" height="7.20" fill="#e0e0e0"/>
<rect x="75.04" y="281.40" width="2.82" height="6.80" fill="#f6b8b8" stroke="#ec8c8c" stroke-width="0.5"/>
<rect x="75.61" y="281.20" width="1.67" height="7.20" fill="#b80a1a"/>
<rect x="78.25" y="281.40" width="2.82" height="6.80" fill="#f7c2c2" stroke="#ec8c8c" stroke-width="0.5"/>
<rect x="81.47" y="281.40" width="2.82" height="6.80" fill="#f7c2c2" stroke="#ec8c8c" stroke-width="0.5"/>
<rect x="85.26" y="281.20" width="1.67" height="7.20" fill="#e0e0e0"/>
<rect x="88.48" y="281.20" width="1.67" height="7.20" fill="#e0e0e0"/>
<rect x="91.12" y="281.40" width="2.82" height="6.80" fill="#f7c2c2" stroke="#ec8c8c" stroke-width="0.5"/>
<rect x="94.34" y="281.40" width="2.82" height="6.80" fill="#f6b8b8" stroke="#ec8c8c" stroke-width="0.5"/>
<rect x="94.91" y="281.20" width="1.67" height="7.20" fill="#b80a1a"/>
<rect x="98.13" y="281.20" width="1.67" height="7.20" fill="#e0e0e0"/>
<rect x="101.35" y="281.20" width="1.67" height="7.20" fill="#e0e0e0"/>
<rect x="104.57" y="281.20" width="1.67" height="7.20" fill="#e0e0e0"/>
<rect x="107.78" y="281.20" width="1.67" height="7.20" fill="#e0e0e0"/>
<rect x="111.00" y="281.20" width="1.67" height="7.20" fill="#e0e0e0"/>
<rect x="114.22" y="281.20" width="1.67" height="7.20" fill="#e0e0e0"/>
<rect x="117.44" y="281.20" width="1.67" height="7.20" fill="#e0e0e0"/>
<rect x="120.65" y="281.20" width="1.67" height="7.20" fill="#e0e0e0"/>
<rect x="123.87" y="281.20" width="1.67" height="7.20" fill="#e0e0e0"/>
<rect x="127.09" y="281.20" width="1.67" height="7.20" fill="#e0e0e0"/>
<rect x="129.83" y="281.50" width="2.62" height="6.60" fill="#a8c2ea" stroke="#3a66b0" stroke-width="0.8"/>
<rect x="133.52" y="281.20" width="1.67" height="7.20" fill="#e0e0e0"/>
<rect x="136.17" y="281.40" width="2.82" height="6.80" fill="#f7c2c2" stroke="#ec8c8c" stroke-width="0.5"/>
<rect x="139.39" y="281.40" width="2.82" height="6.80" fill="#f7c2c2" stroke="#ec8c8c" stroke-width="0.5"/>
<rect x="142.70" y="281.50" width="2.62" height="6.60" fill="#a8c2ea" stroke="#3a66b0" stroke-width="0.8"/>
<rect x="146.39" y="281.20" width="1.67" height="7.20" fill="#e0e0e0"/>
<rect x="149.61" y="281.20" width="1.67" height="7.20" fill="#e0e0e0"/>
<rect x="152.83" y="281.20" width="1.67" height="7.20" fill="#e0e0e0"/>
<rect x="156.05" y="281.20" width="1.67" height="7.20" fill="#e0e0e0"/>
<rect x="159.26" y="281.20" width="1.67" height="7.20" fill="#e0e0e0"/>
<rect x="162.48" y="281.20" width="1.67" height="7.20" fill="#e0e0e0"/>
<rect x="165.70" y="281.20" width="1.67" height="7.20" fill="#e0e0e0"/>
<rect x="168.92" y="281.20" width="1.67" height="7.20" fill="#e0e0e0"/>
<rect x="172.13" y="281.20" width="1.67" height="7.20" fill="#e0e0e0"/>
<rect x="175.35" y="281.20" width="1.67" height="7.20" fill="#e0e0e0"/>
<rect x="178.57" y="281.20" width="1.67" height="7.20" fill="#e0e0e0"/>
<rect x="181.79" y="281.20" width="1.67" height="7.20" fill="#e0e0e0"/>
<rect x="185.00" y="281.20" width="1.67" height="7.20" fill="#e0e0e0"/>
<rect x="188.22" y="281.20" width="1.67" height="7.20" fill="#e0e0e0"/>
<rect x="191.44" y="281.20" width="1.67" height="7.20" fill="#e0e0e0"/>
<rect x="194.66" y="281.20" width="1.67" height="7.20" fill="#e0e0e0"/>
<rect x="197.87" y="281.20" width="1.67" height="7.20" fill="#e0e0e0"/>
<rect x="201.09" y="281.20" width="1.67" height="7.20" fill="#e0e0e0"/>
<rect x="204.31" y="281.20" width="1.67" height="7.20" fill="#e0e0e0"/>
<rect x="207.53" y="281.20" width="1.67" height="7.20" fill="#e0e0e0"/>
<rect x="210.74" y="281.20" width="1.67" height="7.20" fill="#e0e0e0"/>
<rect x="213.96" y="281.20" width="1.67" height="7.20" fill="#e0e0e0"/>
<rect x="217.18" y="281.20" width="1.67" height="7.20" fill="#e0e0e0"/>
<rect x="220.40" y="281.20" width="1.67" height="7.20" fill="#e0e0e0"/>
<rect x="223.61" y="281.20" width="1.67" height="7.20" fill="#e0e0e0"/>
<rect x="226.83" y="281.20" width="1.67" height="7.20" fill="#e0e0e0"/>
<rect x="230.05" y="281.20" width="1.67" height="7.20" fill="#e0e0e0"/>
<rect x="233.27" y="281.20" width="1.67" height="7.20" fill="#e0e0e0"/>
<rect x="235.91" y="281.40" width="2.82" height="6.80" fill="#f7c2c2" stroke="#ec8c8c" stroke-width="0.5"/>
<rect x="239.13" y="281.40" width="2.82" height="6.80" fill="#f7c2c2" stroke="#ec8c8c" stroke-width="0.5"/>
<rect x="242.92" y="281.20" width="1.67" height="7.20" fill="#e0e0e0"/>
<rect x="246.14" y="281.20" width="1.67" height="7.20" fill="#e0e0e0"/>
<rect x="249.35" y="281.20" width="1.67" height="7.20" fill="#e0e0e0"/>
<rect x="252.57" y="281.20" width="1.67" height="7.20" fill="#e0e0e0"/>
<rect x="255.79" y="281.20" width="1.67" height="7.20" fill="#e0e0e0"/>
<rect x="259.01" y="281.20" width="1.67" height="7.20" fill="#e0e0e0"/>
<rect x="262.22" y="281.20" width="1.67" height="7.20" fill="#e0e0e0"/>
<rect x="265.44" y="281.20" width="1.67" height="7.20" fill="#e0e0e0"/>
<rect x="268.66" y="281.20" width="1.67" height="7.20" fill="#e0e0e0"/>
<rect x="271.88" y="281.20" width="1.67" height="7.20" fill="#e0e0e0"/>
<rect x="274.52" y="281.40" width="2.82" height="6.80" fill="#f6b8b8" stroke="#ec8c8c" stroke-width="0.5"/>
<rect x="275.09" y="281.20" width="1.67" height="7.20" fill="#b80a1a"/>
<rect x="277.74" y="281.40" width="2.82" height="6.80" fill="#f6b8b8" stroke="#ec8c8c" stroke-width="0.5"/>
<rect x="278.31" y="281.20" width="1.67" height="7.20" fill="#b80a1a"/>
<rect x="280.96" y="281.40" width="2.82" height="6.80" fill="#f7c2c2" stroke="#ec8c8c" stroke-width="0.5"/>
<rect x="284.17" y="281.40" width="2.82" height="6.80" fill="#f7c2c2" stroke="#ec8c8c" stroke-width="0.5"/>
<rect x="287.39" y="281.40" width="2.82" height="6.80" fill="#f7c2c2" stroke="#ec8c8c" stroke-width="0.5"/>
<rect x="290.61" y="281.40" width="2.82" height="6.80" fill="#f7c2c2" stroke="#ec8c8c" stroke-width="0.5"/>
<rect x="293.83" y="281.40" width="2.82" height="6.80" fill="#f7c2c2" stroke="#ec8c8c" stroke-width="0.5"/>
<rect x="297.62" y="281.20" width="1.67" height="7.20" fill="#e0e0e0"/>
<rect x="300.83" y="281.20" width="1.67" height="7.20" fill="#e0e0e0"/>
<rect x="304.05" y="281.20" width="1.67" height="7.20" fill="#e0e0e0"/>
<rect x="307.27" y="281.20" width="1.67" height="7.20" fill="#e0e0e0"/>
<rect x="310.49" y="281.20" width="1.67" height="7.20" fill="#e0e0e0"/>
<rect x="313.70" y="281.20" width="1.67" height="7.20" fill="#e0e0e0"/>
<rect x="316.92" y="281.20" width="1.67" height="7.20" fill="#e0e0e0"/>
<rect x="320.14" y="281.20" width="1.67" height="7.20" fill="#e0e0e0"/>
<rect x="323.36" y="281.20" width="1.67" height="7.20" fill="#e0e0e0"/>
<rect x="326.57" y="281.20" width="1.67" height="7.20" fill="#e0e0e0"/>
<rect x="329.79" y="281.20" width="1.67" height="7.20" fill="#e0e0e0"/>
<rect x="333.01" y="281.20" width="1.67" height="7.20" fill="#e0e0e0"/>
<rect x="336.23" y="281.20" width="1.67" height="7.20" fill="#e0e0e0"/>
<rect x="339.44" y="281.20" width="1.67" height="7.20" fill="#e0e0e0"/>
<rect x="342.66" y="281.20" width="1.67" height="7.20" fill="#e0e0e0"/>
<rect x="345.88" y="281.20" width="1.67" height="7.20" fill="#e0e0e0"/>
<rect x="349.10" y="281.20" width="1.67" height="7.20" fill="#e0e0e0"/>
<rect x="352.31" y="281.20" width="1.67" height="7.20" fill="#e0e0e0"/>
<rect x="355.53" y="281.20" width="1.67" height="7.20" fill="#e0e0e0"/>
<rect x="358.75" y="281.20" width="1.67" height="7.20" fill="#e0e0e0"/>
<rect x="361.97" y="281.20" width="1.67" height="7.20" fill="#e0e0e0"/>
<rect x="365.18" y="281.20" width="1.67" height="7.20" fill="#e0e0e0"/>
<rect x="368.40" y="281.20" width="1.67" height="7.20" fill="#e0e0e0"/>
<rect x="371.62" y="281.20" width="1.67" height="7.20" fill="#e0e0e0"/>
<rect x="374.84" y="281.20" width="1.67" height="7.20" fill="#e0e0e0"/>
<rect x="378.05" y="281.20" width="1.67" height="7.20" fill="#e0e0e0"/>
<rect x="381.27" y="281.20" width="1.67" height="7.20" fill="#e0e0e0"/>
<rect x="384.49" y="281.20" width="1.67" height="7.20" fill="#e0e0e0"/>
<rect x="387.71" y="281.20" width="1.67" height="7.20" fill="#e0e0e0"/>
<rect x="390.92" y="281.20" width="1.67" height="7.20" fill="#e0e0e0"/>
<rect x="394.14" y="281.20" width="1.67" height="7.20" fill="#e0e0e0"/>
<rect x="397.36" y="281.20" width="1.67" height="7.20" fill="#e0e0e0"/>
<rect x="400.58" y="281.20" width="1.67" height="7.20" fill="#e0e0e0"/>
<rect x="403.79" y="281.20" width="1.67" height="7.20" fill="#e0e0e0"/>
<rect x="407.01" y="281.20" width="1.67" height="7.20" fill="#e0e0e0"/>
<rect x="410.23" y="281.20" width="1.67" height="7.20" fill="#e0e0e0"/>
<rect x="413.44" y="281.20" width="1.67" height="7.20" fill="#e0e0e0"/>
<rect x="416.66" y="281.20" width="1.67" height="7.20" fill="#e0e0e0"/>
<rect x="419.88" y="281.20" width="1.67" height="7.20" fill="#e0e0e0"/>
<rect x="423.10" y="281.20" width="1.67" height="7.20" fill="#e0e0e0"/>
<rect x="426.31" y="281.20" width="1.67" height="7.20" fill="#e0e0e0"/>
<rect x="429.53" y="281.20" width="1.67" height="7.20" fill="#e0e0e0"/>
<rect x="432.75" y="281.20" width="1.67" height="7.20" fill="#e0e0e0"/>
<rect x="435.97" y="281.20" width="1.67" height="7.20" fill="#e0e0e0"/>
<rect x="439.18" y="281.20" width="1.67" height="7.20" fill="#e0e0e0"/>
<rect x="442.40" y="281.20" width="1.67" height="7.20" fill="#e0e0e0"/>
<rect x="445.62" y="281.20" width="1.67" height="7.20" fill="#e0e0e0"/>
<rect x="448.84" y="281.20" width="1.67" height="7.20" fill="#e0e0e0"/>
<rect x="452.05" y="281.20" width="1.67" height="7.20" fill="#e0e0e0"/>
<rect x="58.95" y="290.80" width="2.82" height="6.80" fill="#f7c2c2" stroke="#ec8c8c" stroke-width="0.5"/>
<rect x="62.74" y="290.60" width="1.67" height="7.20" fill="#e0e0e0"/>
<rect x="65.38" y="290.80" width="2.82" height="6.80" fill="#f7c2c2" stroke="#ec8c8c" stroke-width="0.5"/>
<rect x="69.17" y="290.60" width="1.67" height="7.20" fill="#e0e0e0"/>
<rect x="72.39" y="290.60" width="1.67" height="7.20" fill="#e0e0e0"/>
<rect x="75.61" y="290.60" width="1.67" height="7.20" fill="#e0e0e0"/>
<rect x="78.25" y="290.80" width="2.82" height="6.80" fill="#f7c2c2" stroke="#ec8c8c" stroke-width="0.5"/>
<rect x="81.47" y="290.80" width="2.82" height="6.80" fill="#f7c2c2" stroke="#ec8c8c" stroke-width="0.5"/>
<rect x="85.26" y="290.60" width="1.67" height="7.20" fill="#e0e0e0"/>
<rect x="88.48" y="290.60" width="1.67" height="7.20" fill="#e0e0e0"/>
<rect x="91.70" y="290.60" width="1.67" height="7.20" fill="#e0e0e0"/>
<rect x="94.34" y="290.80" width="2.82" height="6.80" fill="#f6b8b8" stroke="#ec8c8c" stroke-width="0.5"/>
<rect x="94.91" y="290.60" width="1.67" height="7.20" fill="#b80a1a"/>
<rect x="98.13" y="290.60" width="1.67" height="7.20" fill="#e0e0e0"/>
<circle cx="98.97" cy="294.20" r="1.25" fill="#141814"/>
<rect x="101.35" y="290.60" width="1.67" height="7.20" fill="#e0e0e0"/>
<rect x="104.57" y="290.60" width="1.67" height="7.20" fill="#e0e0e0"/>
<rect x="107.78" y="290.60" width="1.67" height="7.20" fill="#e0e0e0"/>
<rect x="111.00" y="290.60" width="1.67" height="7.20" fill="#e0e0e0"/>
<rect x="114.22" y="290.60" width="1.67" height="7.20" fill="#e0e0e0"/>
<rect x="117.44" y="290.60" width="1.67" height="7.20" fill="#e0e0e0"/>
<rect x="120.65" y="290.60" width="1.67" height="7.20" fill="#e0e0e0"/>
<rect x="123.87" y="290.60" width="1.67" height="7.20" fill="#e0e0e0"/>
<rect x="127.09" y="290.60" width="1.67" height="7.20" fill="#e0e0e0"/>
<rect x="130.18" y="290.60" width="1.93" height="7.20" fill="#d8101c"/>
<rect x="132.95" y="290.80" width="2.82" height="6.80" fill="#f7c2c2" stroke="#ec8c8c" stroke-width="0.5"/>
<rect x="136.17" y="290.80" width="2.82" height="6.80" fill="#f7c2c2" stroke="#ec8c8c" stroke-width="0.5"/>
<rect x="139.39" y="290.80" width="2.82" height="6.80" fill="#f7c2c2" stroke="#ec8c8c" stroke-width="0.5"/>
<rect x="142.60" y="290.80" width="2.82" height="6.80" fill="#f7c2c2" stroke="#ec8c8c" stroke-width="0.5"/>
<rect x="145.82" y="290.80" width="2.82" height="6.80" fill="#f7c2c2" stroke="#ec8c8c" stroke-width="0.5"/>
<rect x="149.04" y="290.80" width="2.82" height="6.80" fill="#f7c2c2" stroke="#ec8c8c" stroke-width="0.5"/>
<rect x="152.26" y="290.80" width="2.82" height="6.80" fill="#f7c2c2" stroke="#ec8c8c" stroke-width="0.5"/>
<rect x="156.05" y="290.60" width="1.67" height="7.20" fill="#e0e0e0"/>
<rect x="159.26" y="290.60" width="1.67" height="7.20" fill="#e0e0e0"/>
<rect x="162.48" y="290.60" width="1.67" height="7.20" fill="#e0e0e0"/>
<rect x="165.70" y="290.60" width="1.67" height="7.20" fill="#e0e0e0"/>
<rect x="168.92" y="290.60" width="1.67" height="7.20" fill="#e0e0e0"/>
<rect x="172.13" y="290.60" width="1.67" height="7.20" fill="#e0e0e0"/>
<rect x="175.35" y="290.60" width="1.67" height="7.20" fill="#e0e0e0"/>
<rect x="178.57" y="290.60" width="1.67" height="7.20" fill="#e0e0e0"/>
<rect x="181.79" y="290.60" width="1.67" height="7.20" fill="#e0e0e0"/>
<rect x="185.00" y="290.60" width="1.67" height="7.20" fill="#e0e0e0"/>
<rect x="188.22" y="290.60" width="1.67" height="7.20" fill="#e0e0e0"/>
<rect x="191.44" y="290.60" width="1.67" height="7.20" fill="#e0e0e0"/>
<rect x="194.66" y="290.60" width="1.67" height="7.20" fill="#e0e0e0"/>
<rect x="197.87" y="290.60" width="1.67" height="7.20" fill="#e0e0e0"/>
<rect x="201.09" y="290.60" width="1.67" height="7.20" fill="#e0e0e0"/>
<rect x="204.31" y="290.60" width="1.67" height="7.20" fill="#e0e0e0"/>
<rect x="207.53" y="290.60" width="1.67" height="7.20" fill="#e0e0e0"/>
<rect x="210.74" y="290.60" width="1.67" height="7.20" fill="#e0e0e0"/>
<rect x="213.96" y="290.60" width="1.67" height="7.20" fill="#e0e0e0"/>
<rect x="217.18" y="290.60" width="1.67" height="7.20" fill="#e0e0e0"/>
<rect x="220.40" y="290.60" width="1.67" height="7.20" fill="#e0e0e0"/>
<rect x="223.61" y="290.60" width="1.67" height="7.20" fill="#e0e0e0"/>
<rect x="226.83" y="290.60" width="1.67" height="7.20" fill="#e0e0e0"/>
<rect x="230.05" y="290.60" width="1.67" height="7.20" fill="#e0e0e0"/>
<rect x="233.27" y="290.60" width="1.67" height="7.20" fill="#e0e0e0"/>
<rect x="236.48" y="290.60" width="1.67" height="7.20" fill="#e0e0e0"/>
<rect x="239.70" y="290.60" width="1.67" height="7.20" fill="#e0e0e0"/>
<rect x="242.35" y="290.80" width="2.82" height="6.80" fill="#f7c2c2" stroke="#ec8c8c" stroke-width="0.5"/>
<rect x="245.66" y="290.90" width="2.62" height="6.60" fill="#a8c2ea" stroke="#3a66b0" stroke-width="0.8"/>
<rect x="249.35" y="290.60" width="1.67" height="7.20" fill="#e0e0e0"/>
<rect x="252.57" y="290.60" width="1.67" height="7.20" fill="#e0e0e0"/>
<rect x="255.79" y="290.60" width="1.67" height="7.20" fill="#e0e0e0"/>
<rect x="259.01" y="290.60" width="1.67" height="7.20" fill="#e0e0e0"/>
<rect x="262.22" y="290.60" width="1.67" height="7.20" fill="#e0e0e0"/>
<rect x="265.44" y="290.60" width="1.67" height="7.20" fill="#e0e0e0"/>
<rect x="268.09" y="290.80" width="2.82" height="6.80" fill="#f6b8b8" stroke="#ec8c8c" stroke-width="0.5"/>
<rect x="268.66" y="290.60" width="1.67" height="7.20" fill="#b80a1a"/>
<rect x="271.88" y="290.60" width="1.67" height="7.20" fill="#e0e0e0"/>
<rect x="274.52" y="290.80" width="2.82" height="6.80" fill="#f7c2c2" stroke="#ec8c8c" stroke-width="0.5"/>
<rect x="278.31" y="290.60" width="1.67" height="7.20" fill="#e0e0e0"/>
<rect x="280.96" y="290.80" width="2.82" height="6.80" fill="#f7c2c2" stroke="#ec8c8c" stroke-width="0.5"/>
<rect x="284.75" y="290.60" width="1.67" height="7.20" fill="#e0e0e0"/>
<rect x="287.96" y="290.60" width="1.67" height="7.20" fill="#e0e0e0"/>
<rect x="291.18" y="290.60" width="1.67" height="7.20" fill="#e0e0e0"/>
<rect x="294.40" y="290.60" width="1.67" height="7.20" fill="#e0e0e0"/>
<rect x="297.04" y="290.80" width="2.82" height="6.80" fill="#f6b8b8" stroke="#ec8c8c" stroke-width="0.5"/>
<rect x="297.62" y="290.60" width="1.67" height="7.20" fill="#b80a1a"/>
<rect x="300.26" y="290.80" width="2.82" height="6.80" fill="#f6b8b8" stroke="#ec8c8c" stroke-width="0.5"/>
<rect x="300.83" y="290.60" width="1.67" height="7.20" fill="#b80a1a"/>
<rect x="303.48" y="290.80" width="2.82" height="6.80" fill="#f7c2c2" stroke="#ec8c8c" stroke-width="0.5"/>
<rect x="306.70" y="290.80" width="2.82" height="6.80" fill="#f7c2c2" stroke="#ec8c8c" stroke-width="0.5"/>
<rect x="309.91" y="290.80" width="2.82" height="6.80" fill="#f7c2c2" stroke="#ec8c8c" stroke-width="0.5"/>
<rect x="313.13" y="290.80" width="2.82" height="6.80" fill="#f7c2c2" stroke="#ec8c8c" stroke-width="0.5"/>
<rect x="316.35" y="290.80" width="2.82" height="6.80" fill="#f7c2c2" stroke="#ec8c8c" stroke-width="0.5"/>
<rect x="319.57" y="290.80" width="2.82" height="6.80" fill="#f7c2c2" stroke="#ec8c8c" stroke-width="0.5"/>
<rect x="322.78" y="290.80" width="2.82" height="6.80" fill="#f7c2c2" stroke="#ec8c8c" stroke-width="0.5"/>
<rect x="326.00" y="290.80" width="2.82" height="6.80" fill="#f7c2c2" stroke="#ec8c8c" stroke-width="0.5"/>
<rect x="329.22" y="290.80" width="2.82" height="6.80" fill="#f7c2c2" stroke="#ec8c8c" stroke-width="0.5"/>
<rect x="332.44" y="290.80" width="2.82" height="6.80" fill="#f7c2c2" stroke="#ec8c8c" stroke-width="0.5"/>
<rect x="335.65" y="290.80" width="2.82" height="6.80" fill="#f7c2c2" stroke="#ec8c8c" stroke-width="0.5"/>
<rect x="338.97" y="290.90" width="2.62" height="6.60" fill="#a8c2ea" stroke="#3a66b0" stroke-width="0.8"/>
<rect x="342.19" y="290.90" width="2.62" height="6.60" fill="#a8c2ea" stroke="#3a66b0" stroke-width="0.8"/>
<rect x="345.41" y="290.90" width="2.62" height="6.60" fill="#a8c2ea" stroke="#3a66b0" stroke-width="0.8"/>
<rect x="348.62" y="290.90" width="2.62" height="6.60" fill="#a8c2ea" stroke="#3a66b0" stroke-width="0.8"/>
<rect x="352.31" y="290.60" width="1.67" height="7.20" fill="#e0e0e0"/>
<rect x="355.53" y="290.60" width="1.67" height="7.20" fill="#e0e0e0"/>
<rect x="358.75" y="290.60" width="1.67" height="7.20" fill="#e0e0e0"/>
<rect x="361.97" y="290.60" width="1.67" height="7.20" fill="#e0e0e0"/>
<rect x="365.18" y="290.60" width="1.67" height="7.20" fill="#e0e0e0"/>
<rect x="368.40" y="290.60" width="1.67" height="7.20" fill="#e0e0e0"/>
<rect x="371.62" y="290.60" width="1.67" height="7.20" fill="#e0e0e0"/>
<rect x="374.84" y="290.60" width="1.67" height="7.20" fill="#e0e0e0"/>
<rect x="378.05" y="290.60" width="1.67" height="7.20" fill="#e0e0e0"/>
<rect x="381.27" y="290.60" width="1.67" height="7.20" fill="#e0e0e0"/>
<rect x="384.49" y="290.60" width="1.67" height="7.20" fill="#e0e0e0"/>
<rect x="387.71" y="290.60" width="1.67" height="7.20" fill="#e0e0e0"/>
<rect x="390.92" y="290.60" width="1.67" height="7.20" fill="#e0e0e0"/>
<rect x="394.14" y="290.60" width="1.67" height="7.20" fill="#e0e0e0"/>
<rect x="397.36" y="290.60" width="1.67" height="7.20" fill="#e0e0e0"/>
<rect x="400.58" y="290.60" width="1.67" height="7.20" fill="#e0e0e0"/>
<rect x="403.79" y="290.60" width="1.67" height="7.20" fill="#e0e0e0"/>
<rect x="407.01" y="290.60" width="1.67" height="7.20" fill="#e0e0e0"/>
<rect x="410.23" y="290.60" width="1.67" height="7.20" fill="#e0e0e0"/>
<rect x="413.44" y="290.60" width="1.67" height="7.20" fill="#e0e0e0"/>
<rect x="416.66" y="290.60" width="1.67" height="7.20" fill="#e0e0e0"/>
<rect x="419.88" y="290.60" width="1.67" height="7.20" fill="#e0e0e0"/>
<rect x="423.10" y="290.60" width="1.67" height="7.20" fill="#e0e0e0"/>
<rect x="426.31" y="290.60" width="1.67" height="7.20" fill="#e0e0e0"/>
<rect x="429.53" y="290.60" width="1.67" height="7.20" fill="#e0e0e0"/>
<rect x="432.75" y="290.60" width="1.67" height="7.20" fill="#e0e0e0"/>
<rect x="435.97" y="290.60" width="1.67" height="7.20" fill="#e0e0e0"/>
<rect x="439.18" y="290.60" width="1.67" height="7.20" fill="#e0e0e0"/>
<rect x="442.40" y="290.60" width="1.67" height="7.20" fill="#e0e0e0"/>
<rect x="445.62" y="290.60" width="1.67" height="7.20" fill="#e0e0e0"/>
<rect x="448.84" y="290.60" width="1.67" height="7.20" fill="#e0e0e0"/>
<rect x="452.05" y="290.60" width="1.67" height="7.20" fill="#e0e0e0"/>
<rect x="59.52" y="300.10" width="1.67" height="7.20" fill="#e0e0e0"/>
<rect x="62.74" y="300.10" width="1.67" height="7.20" fill="#e0e0e0"/>
<rect x="65.96" y="300.10" width="1.67" height="7.20" fill="#e0e0e0"/>
<rect x="69.17" y="300.10" width="1.67" height="7.20" fill="#e0e0e0"/>
<rect x="72.39" y="300.10" width="1.67" height="7.20" fill="#e0e0e0"/>
<rect x="75.61" y="300.10" width="1.67" height="7.20" fill="#e0e0e0"/>
<rect x="78.35" y="300.40" width="2.62" height="6.60" fill="#6690d4" stroke="#3260aa" stroke-width="0.8"/>
<rect x="82.04" y="300.10" width="1.67" height="7.20" fill="#e0e0e0"/>
<rect x="85.26" y="300.10" width="1.67" height="7.20" fill="#e0e0e0"/>
<rect x="88.48" y="300.10" width="1.67" height="7.20" fill="#e0e0e0"/>
<rect x="91.70" y="300.10" width="1.67" height="7.20" fill="#e0e0e0"/>
<rect x="94.34" y="300.30" width="2.82" height="6.80" fill="#7aaab8" stroke="#4672b4" stroke-width="0.7"/>
<rect x="98.13" y="300.10" width="1.67" height="7.20" fill="#e0e0e0"/>
<circle cx="98.97" cy="303.70" r="1.25" fill="#141814"/>
<rect x="101.35" y="300.10" width="1.67" height="7.20" fill="#e0e0e0"/>
<rect x="104.57" y="300.10" width="1.67" height="7.20" fill="#e0e0e0"/>
<rect x="107.78" y="300.10" width="1.67" height="7.20" fill="#e0e0e0"/>
<rect x="111.00" y="300.10" width="1.67" height="7.20" fill="#e0e0e0"/>
<rect x="114.22" y="300.10" width="1.67" height="7.20" fill="#e0e0e0"/>
<rect x="117.44" y="300.10" width="1.67" height="7.20" fill="#e0e0e0"/>
<rect x="120.65" y="300.10" width="1.67" height="7.20" fill="#e0e0e0"/>
<rect x="123.87" y="300.10" width="1.67" height="7.20" fill="#e0e0e0"/>
<rect x="127.09" y="300.10" width="1.67" height="7.20" fill="#e0e0e0"/>
<rect x="130.31" y="300.10" width="1.67" height="7.20" fill="#e0e0e0"/>
<rect x="133.05" y="300.40" width="2.62" height="6.60" fill="#6690d4" stroke="#3260aa" stroke-width="0.8"/>
<rect x="136.27" y="300.40" width="2.62" height="6.60" fill="#6690d4" stroke="#3260aa" stroke-width="0.8"/>
<rect x="139.96" y="300.10" width="1.67" height="7.20" fill="#e0e0e0"/>
<rect x="143.18" y="300.10" width="1.67" height="7.20" fill="#e0e0e0"/>
<rect x="145.92" y="300.40" width="2.62" height="6.60" fill="#a8c2ea" stroke="#3a66b0" stroke-width="0.8"/>
<rect x="149.61" y="300.10" width="1.67" height="7.20" fill="#e0e0e0"/>
<rect x="152.83" y="300.10" width="1.67" height="7.20" fill="#e0e0e0"/>
<rect x="155.57" y="300.40" width="2.62" height="6.60" fill="#6690d4" stroke="#3260aa" stroke-width="0.8"/>
<rect x="158.69" y="300.30" width="2.82" height="6.80" fill="#f7c2c2" stroke="#ec8c8c" stroke-width="0.5"/>
<rect x="162.01" y="300.40" width="2.62" height="6.60" fill="#a8c2ea" stroke="#3a66b0" stroke-width="0.8"/>
<rect x="165.70" y="300.10" width="1.67" height="7.20" fill="#e0e0e0"/>
<rect x="168.92" y="300.10" width="1.67" height="7.20" fill="#e0e0e0"/>
<rect x="172.13" y="300.10" width="1.67" height="7.20" fill="#e0e0e0"/>
<rect x="175.35" y="300.10" width="1.67" height="7.20" fill="#e0e0e0"/>
<rect x="178.57" y="300.10" width="1.67" height="7.20" fill="#e0e0e0"/>
<rect x="181.79" y="300.10" width="1.67" height="7.20" fill="#e0e0e0"/>
<rect x="185.00" y="300.10" width="1.67" height="7.20" fill="#e0e0e0"/>
<rect x="188.22" y="300.10" width="1.67" height="7.20" fill="#e0e0e0"/>
<rect x="191.44" y="300.10" width="1.67" height="7.20" fill="#e0e0e0"/>
<rect x="194.66" y="300.10" width="1.67" height="7.20" fill="#e0e0e0"/>
<rect x="197.87" y="300.10" width="1.67" height="7.20" fill="#e0e0e0"/>
<rect x="201.09" y="300.10" width="1.67" height="7.20" fill="#e0e0e0"/>
<rect x="204.31" y="300.10" width="1.67" height="7.20" fill="#e0e0e0"/>
<rect x="207.53" y="300.10" width="1.67" height="7.20" fill="#e0e0e0"/>
<rect x="210.74" y="300.10" width="1.67" height="7.20" fill="#e0e0e0"/>
<rect x="213.96" y="300.10" width="1.67" height="7.20" fill="#e0e0e0"/>
<rect x="217.18" y="300.10" width="1.67" height="7.20" fill="#e0e0e0"/>
<rect x="220.40" y="300.10" width="1.67" height="7.20" fill="#e0e0e0"/>
<rect x="223.61" y="300.10" width="1.67" height="7.20" fill="#e0e0e0"/>
<rect x="226.83" y="300.10" width="1.67" height="7.20" fill="#e0e0e0"/>
<rect x="230.05" y="300.10" width="1.67" height="7.20" fill="#e0e0e0"/>
<rect x="233.27" y="300.10" width="1.67" height="7.20" fill="#e0e0e0"/>
<rect x="236.48" y="300.10" width="1.67" height="7.20" fill="#e0e0e0"/>
<rect x="239.70" y="300.10" width="1.67" height="7.20" fill="#e0e0e0"/>
<rect x="242.45" y="300.40" width="2.62" height="6.60" fill="#a8c2ea" stroke="#3a66b0" stroke-width="0.8"/>
<rect x="246.14" y="300.10" width="1.67" height="7.20" fill="#e0e0e0"/>
<rect x="249.35" y="300.10" width="1.67" height="7.20" fill="#e0e0e0"/>
<rect x="252.57" y="300.10" width="1.67" height="7.20" fill="#e0e0e0"/>
<rect x="255.79" y="300.10" width="1.67" height="7.20" fill="#e0e0e0"/>
<rect x="259.01" y="300.10" width="1.67" height="7.20" fill="#e0e0e0"/>
<rect x="262.22" y="300.10" width="1.67" height="7.20" fill="#e0e0e0"/>
<rect x="265.44" y="300.10" width="1.67" height="7.20" fill="#e0e0e0"/>
<rect x="268.66" y="300.10" width="1.67" height="7.20" fill="#e0e0e0"/>
<rect x="271.88" y="300.10" width="1.67" height="7.20" fill="#e0e0e0"/>
<rect x="275.09" y="300.10" width="1.67" height="7.20" fill="#e0e0e0"/>
<rect x="278.31" y="300.10" width="1.67" height="7.20" fill="#e0e0e0"/>
<rect x="281.53" y="300.10" width="1.67" height="7.20" fill="#e0e0e0"/>
<rect x="284.75" y="300.10" width="1.67" height="7.20" fill="#e0e0e0"/>
<circle cx="285.58" cy="303.70" r="1.25" fill="#141814"/>
<rect x="287.39" y="300.30" width="2.82" height="6.80" fill="#f7c2c2" stroke="#ec8c8c" stroke-width="0.5"/>
<rect x="290.61" y="300.30" width="2.82" height="6.80" fill="#f7c2c2" stroke="#ec8c8c" stroke-width="0.5"/>
<rect x="294.40" y="300.10" width="1.67" height="7.20" fill="#e0e0e0"/>
<rect x="297.62" y="300.10" width="1.67" height="7.20" fill="#e0e0e0"/>
<rect x="300.83" y="300.10" width="1.67" height="7.20" fill="#e0e0e0"/>
<rect x="303.58" y="300.40" width="2.62" height="6.60" fill="#6690d4" stroke="#3260aa" stroke-width="0.8"/>
<rect x="306.80" y="300.40" width="2.62" height="6.60" fill="#6690d4" stroke="#3260aa" stroke-width="0.8"/>
<rect x="310.01" y="300.40" width="2.62" height="6.60" fill="#6690d4" stroke="#3260aa" stroke-width="0.8"/>
<rect x="313.23" y="300.40" width="2.62" height="6.60" fill="#6690d4" stroke="#3260aa" stroke-width="0.8"/>
<rect x="316.92" y="300.10" width="1.67" height="7.20" fill="#e0e0e0"/>
<rect x="320.14" y="300.10" width="1.67" height="7.20" fill="#e0e0e0"/>
<rect x="323.36" y="300.10" width="1.67" height="7.20" fill="#e0e0e0"/>
<rect x="326.57" y="300.10" width="1.67" height="7.20" fill="#e0e0e0"/>
<rect x="329.79" y="300.10" width="1.67" height="7.20" fill="#e0e0e0"/>
<rect x="333.01" y="300.10" width="1.67" height="7.20" fill="#e0e0e0"/>
<rect x="336.23" y="300.10" width="1.67" height="7.20" fill="#e0e0e0"/>
<rect x="338.87" y="300.30" width="2.82" height="6.80" fill="#7aaab8" stroke="#4672b4" stroke-width="0.7"/>
<rect x="342.66" y="300.10" width="1.67" height="7.20" fill="#e0e0e0"/>
<rect x="345.88" y="300.10" width="1.67" height="7.20" fill="#e0e0e0"/>
<rect x="349.10" y="300.10" width="1.67" height="7.20" fill="#e0e0e0"/>
<rect x="351.84" y="300.40" width="2.62" height="6.60" fill="#6690d4" stroke="#3260aa" stroke-width="0.8"/>
<rect x="355.06" y="300.40" width="2.62" height="6.60" fill="#6690d4" stroke="#3260aa" stroke-width="0.8"/>
<rect x="358.28" y="300.40" width="2.62" height="6.60" fill="#6690d4" stroke="#3260aa" stroke-width="0.8"/>
<rect x="361.49" y="300.40" width="2.62" height="6.60" fill="#6690d4" stroke="#3260aa" stroke-width="0.8"/>
<rect x="364.71" y="300.40" width="2.62" height="6.60" fill="#6690d4" stroke="#3260aa" stroke-width="0.8"/>
<rect x="367.93" y="300.40" width="2.62" height="6.60" fill="#6690d4" stroke="#3260aa" stroke-width="0.8"/>
<rect x="371.15" y="300.40" width="2.62" height="6.60" fill="#6690d4" stroke="#3260aa" stroke-width="0.8"/>
<rect x="374.26" y="300.30" width="2.82" height="6.80" fill="#a8c0ea" stroke="#6a90d0" stroke-width="0.5"/>
<rect x="374.74" y="300.10" width="1.87" height="7.20" fill="#0a18a0"/>
<rect x="377.48" y="300.30" width="2.82" height="6.80" fill="#a8c0ea" stroke="#6a90d0" stroke-width="0.5"/>
<rect x="377.95" y="300.10" width="1.87" height="7.20" fill="#0a18a0"/>
<rect x="380.70" y="300.30" width="2.82" height="6.80" fill="#a8c0ea" stroke="#6a90d0" stroke-width="0.5"/>
<rect x="381.17" y="300.10" width="1.87" height="7.20" fill="#0a18a0"/>
<rect x="383.92" y="300.30" width="2.82" height="6.80" fill="#a8c0ea" stroke="#6a90d0" stroke-width="0.5"/>
<rect x="384.39" y="300.10" width="1.87" height="7.20" fill="#0a18a0"/>
<rect x="387.71" y="300.10" width="1.67" height="7.20" fill="#e0e0e0"/>
<circle cx="388.54" cy="303.70" r="1.25" fill="#141814"/>
<rect x="390.35" y="300.30" width="2.82" height="6.80" fill="#f7c2c2" stroke="#ec8c8c" stroke-width="0.5"/>
<rect x="393.57" y="300.30" width="2.82" height="6.80" fill="#f7c2c2" stroke="#ec8c8c" stroke-width="0.5"/>
<rect x="396.79" y="300.30" width="2.82" height="6.80" fill="#f7c2c2" stroke="#ec8c8c" stroke-width="0.5"/>
<rect x="400.00" y="300.30" width="2.82" height="6.80" fill="#f7c2c2" stroke="#ec8c8c" stroke-width="0.5"/>
<rect x="403.22" y="300.30" width="2.82" height="6.80" fill="#f7c2c2" stroke="#ec8c8c" stroke-width="0.5"/>
<rect x="406.54" y="300.40" width="2.62" height="6.60" fill="#a8c2ea" stroke="#3a66b0" stroke-width="0.8"/>
<rect x="409.76" y="300.40" width="2.62" height="6.60" fill="#a8c2ea" stroke="#3a66b0" stroke-width="0.8"/>
<rect x="412.97" y="300.40" width="2.62" height="6.60" fill="#a8c2ea" stroke="#3a66b0" stroke-width="0.8"/>
<rect x="416.19" y="300.40" width="2.62" height="6.60" fill="#a8c2ea" stroke="#3a66b0" stroke-width="0.8"/>
<rect x="419.41" y="300.40" width="2.62" height="6.60" fill="#a8c2ea" stroke="#3a66b0" stroke-width="0.8"/>
<rect x="422.63" y="300.40" width="2.62" height="6.60" fill="#a8c2ea" stroke="#3a66b0" stroke-width="0.8"/>
<rect x="425.84" y="300.40" width="2.62" height="6.60" fill="#a8c2ea" stroke="#3a66b0" stroke-width="0.8"/>
<rect x="429.06" y="300.40" width="2.62" height="6.60" fill="#a8c2ea" stroke="#3a66b0" stroke-width="0.8"/>
<rect x="432.75" y="300.10" width="1.67" height="7.20" fill="#e0e0e0"/>
<rect x="435.97" y="300.10" width="1.67" height="7.20" fill="#e0e0e0"/>
<rect x="439.18" y="300.10" width="1.67" height="7.20" fill="#e0e0e0"/>
<rect x="442.40" y="300.10" width="1.67" height="7.20" fill="#e0e0e0"/>
<rect x="445.62" y="300.10" width="1.67" height="7.20" fill="#e0e0e0"/>
<rect x="448.84" y="300.10" width="1.67" height="7.20" fill="#e0e0e0"/>
<rect x="452.05" y="300.10" width="1.67" height="7.20" fill="#e0e0e0"/>
<rect x="58.95" y="309.70" width="2.82" height="6.80" fill="#f7c2c2" stroke="#ec8c8c" stroke-width="0.5"/>
<rect x="62.17" y="309.70" width="2.82" height="6.80" fill="#f7c2c2" stroke="#ec8c8c" stroke-width="0.5"/>
<rect x="65.96" y="309.50" width="1.67" height="7.20" fill="#e0e0e0"/>
<rect x="69.17" y="309.50" width="1.67" height="7.20" fill="#e0e0e0"/>
<rect x="72.39" y="309.50" width="1.67" height="7.20" fill="#e0e0e0"/>
<rect x="75.61" y="309.50" width="1.67" height="7.20" fill="#e0e0e0"/>
<rect x="78.83" y="309.50" width="1.67" height="7.20" fill="#e0e0e0"/>
<rect x="82.04" y="309.50" width="1.67" height="7.20" fill="#e0e0e0"/>
<rect x="84.69" y="309.70" width="2.82" height="6.80" fill="#f7c2c2" stroke="#ec8c8c" stroke-width="0.5"/>
<rect x="88.48" y="309.50" width="1.67" height="7.20" fill="#e0e0e0"/>
<rect x="91.70" y="309.50" width="1.67" height="7.20" fill="#e0e0e0"/>
<rect x="94.44" y="309.80" width="2.62" height="6.60" fill="#6690d4" stroke="#3260aa" stroke-width="0.8"/>
<rect x="98.13" y="309.50" width="1.67" height="7.20" fill="#e0e0e0"/>
<rect x="101.35" y="309.50" width="1.67" height="7.20" fill="#e0e0e0"/>
<rect x="104.57" y="309.50" width="1.67" height="7.20" fill="#e0e0e0"/>
<rect x="107.78" y="309.50" width="1.67" height="7.20" fill="#e0e0e0"/>
<rect x="111.00" y="309.50" width="1.67" height="7.20" fill="#e0e0e0"/>
<rect x="114.22" y="309.50" width="1.67" height="7.20" fill="#e0e0e0"/>
<rect x="117.44" y="309.50" width="1.67" height="7.20" fill="#e0e0e0"/>
<rect x="120.65" y="309.50" width="1.67" height="7.20" fill="#e0e0e0"/>
<rect x="123.87" y="309.50" width="1.67" height="7.20" fill="#e0e0e0"/>
<rect x="127.09" y="309.50" width="1.67" height="7.20" fill="#e0e0e0"/>
<rect x="130.31" y="309.50" width="1.67" height="7.20" fill="#e0e0e0"/>
<rect x="133.52" y="309.50" width="1.67" height="7.20" fill="#e0e0e0"/>
<rect x="136.74" y="309.50" width="1.67" height="7.20" fill="#e0e0e0"/>
<rect x="139.96" y="309.50" width="1.67" height="7.20" fill="#e0e0e0"/>
<rect x="143.18" y="309.50" width="1.67" height="7.20" fill="#e0e0e0"/>
<rect x="146.39" y="309.50" width="1.67" height="7.20" fill="#e0e0e0"/>
<rect x="149.61" y="309.50" width="1.67" height="7.20" fill="#e0e0e0"/>
<rect x="152.83" y="309.50" width="1.67" height="7.20" fill="#e0e0e0"/>
<rect x="156.05" y="309.50" width="1.67" height="7.20" fill="#e0e0e0"/>
<rect x="159.26" y="309.50" width="1.67" height="7.20" fill="#e0e0e0"/>
<rect x="162.48" y="309.50" width="1.67" height="7.20" fill="#e0e0e0"/>
<rect x="165.23" y="309.80" width="2.62" height="6.60" fill="#6690d4" stroke="#3260aa" stroke-width="0.8"/>
<rect x="168.34" y="309.70" width="2.82" height="6.80" fill="#f7c2c2" stroke="#ec8c8c" stroke-width="0.5"/>
<rect x="172.13" y="309.50" width="1.67" height="7.20" fill="#e0e0e0"/>
<rect x="175.35" y="309.50" width="1.67" height="7.20" fill="#e0e0e0"/>
<rect x="178.57" y="309.50" width="1.67" height="7.20" fill="#e0e0e0"/>
<rect x="181.79" y="309.50" width="1.67" height="7.20" fill="#e0e0e0"/>
<rect x="185.00" y="309.50" width="1.67" height="7.20" fill="#e0e0e0"/>
<rect x="188.22" y="309.50" width="1.67" height="7.20" fill="#e0e0e0"/>
<rect x="191.44" y="309.50" width="1.67" height="7.20" fill="#e0e0e0"/>
<rect x="194.66" y="309.50" width="1.67" height="7.20" fill="#e0e0e0"/>
<rect x="197.87" y="309.50" width="1.67" height="7.20" fill="#e0e0e0"/>
<rect x="201.09" y="309.50" width="1.67" height="7.20" fill="#e0e0e0"/>
<rect x="204.31" y="309.50" width="1.67" height="7.20" fill="#e0e0e0"/>
<rect x="207.53" y="309.50" width="1.67" height="7.20" fill="#e0e0e0"/>
<rect x="210.74" y="309.50" width="1.67" height="7.20" fill="#e0e0e0"/>
<rect x="213.96" y="309.50" width="1.67" height="7.20" fill="#e0e0e0"/>
<rect x="217.18" y="309.50" width="1.67" height="7.20" fill="#e0e0e0"/>
<rect x="220.40" y="309.50" width="1.67" height="7.20" fill="#e0e0e0"/>
<rect x="223.61" y="309.50" width="1.67" height="7.20" fill="#e0e0e0"/>
<rect x="226.83" y="309.50" width="1.67" height="7.20" fill="#e0e0e0"/>
<rect x="230.05" y="309.50" width="1.67" height="7.20" fill="#e0e0e0"/>
<rect x="233.27" y="309.50" width="1.67" height="7.20" fill="#e0e0e0"/>
<rect x="236.48" y="309.50" width="1.67" height="7.20" fill="#e0e0e0"/>
<rect x="239.70" y="309.50" width="1.67" height="7.20" fill="#e0e0e0"/>
<rect x="242.92" y="309.50" width="1.67" height="7.20" fill="#e0e0e0"/>
<rect x="246.14" y="309.50" width="1.67" height="7.20" fill="#e0e0e0"/>
<rect x="249.35" y="309.50" width="1.67" height="7.20" fill="#e0e0e0"/>
<rect x="252.57" y="309.50" width="1.67" height="7.20" fill="#e0e0e0"/>
<rect x="255.79" y="309.50" width="1.67" height="7.20" fill="#e0e0e0"/>
<rect x="259.01" y="309.50" width="1.67" height="7.20" fill="#e0e0e0"/>
<rect x="262.22" y="309.50" width="1.67" height="7.20" fill="#e0e0e0"/>
<rect x="265.44" y="309.50" width="1.67" height="7.20" fill="#e0e0e0"/>
<rect x="268.66" y="309.50" width="1.67" height="7.20" fill="#e0e0e0"/>
<rect x="271.30" y="309.70" width="2.82" height="6.80" fill="#f7c2c2" stroke="#ec8c8c" stroke-width="0.5"/>
<rect x="275.09" y="309.50" width="1.67" height="7.20" fill="#e0e0e0"/>
<rect x="278.31" y="309.50" width="1.67" height="7.20" fill="#e0e0e0"/>
<rect x="281.53" y="309.50" width="1.67" height="7.20" fill="#e0e0e0"/>
<rect x="284.75" y="309.50" width="1.67" height="7.20" fill="#e0e0e0"/>
<rect x="287.49" y="309.80" width="2.62" height="6.60" fill="#a8c2ea" stroke="#3a66b0" stroke-width="0.8"/>
<rect x="291.18" y="309.50" width="1.67" height="7.20" fill="#e0e0e0"/>
<rect x="294.40" y="309.50" width="1.67" height="7.20" fill="#e0e0e0"/>
<rect x="297.62" y="309.50" width="1.67" height="7.20" fill="#e0e0e0"/>
<rect x="300.83" y="309.50" width="1.67" height="7.20" fill="#e0e0e0"/>
<rect x="304.05" y="309.50" width="1.67" height="7.20" fill="#e0e0e0"/>
<rect x="306.80" y="309.80" width="2.62" height="6.60" fill="#a8c2ea" stroke="#3a66b0" stroke-width="0.8"/>
<rect x="310.49" y="309.50" width="1.67" height="7.20" fill="#e0e0e0"/>
<rect x="313.70" y="309.50" width="1.67" height="7.20" fill="#e0e0e0"/>
<rect x="316.92" y="309.50" width="1.67" height="7.20" fill="#e0e0e0"/>
<rect x="320.14" y="309.50" width="1.67" height="7.20" fill="#e0e0e0"/>
<rect x="323.36" y="309.50" width="1.67" height="7.20" fill="#e0e0e0"/>
<rect x="326.57" y="309.50" width="1.67" height="7.20" fill="#e0e0e0"/>
<rect x="329.79" y="309.50" width="1.67" height="7.20" fill="#e0e0e0"/>
<rect x="333.01" y="309.50" width="1.67" height="7.20" fill="#e0e0e0"/>
<rect x="336.23" y="309.50" width="1.67" height="7.20" fill="#e0e0e0"/>
<rect x="338.87" y="309.70" width="2.82" height="6.80" fill="#f7c2c2" stroke="#ec8c8c" stroke-width="0.5"/>
<rect x="342.66" y="309.50" width="1.67" height="7.20" fill="#e0e0e0"/>
<rect x="345.88" y="309.50" width="1.67" height="7.20" fill="#e0e0e0"/>
<rect x="349.10" y="309.50" width="1.67" height="7.20" fill="#e0e0e0"/>
<rect x="352.31" y="309.50" width="1.67" height="7.20" fill="#e0e0e0"/>
<rect x="355.06" y="309.80" width="2.62" height="6.60" fill="#a8c2ea" stroke="#3a66b0" stroke-width="0.8"/>
<rect x="358.75" y="309.50" width="1.67" height="7.20" fill="#e0e0e0"/>
<rect x="361.97" y="309.50" width="1.67" height="7.20" fill="#e0e0e0"/>
<rect x="365.18" y="309.50" width="1.67" height="7.20" fill="#e0e0e0"/>
<rect x="368.40" y="309.50" width="1.67" height="7.20" fill="#e0e0e0"/>
<rect x="371.62" y="309.50" width="1.67" height="7.20" fill="#e0e0e0"/>
<rect x="374.84" y="309.50" width="1.67" height="7.20" fill="#e0e0e0"/>
<rect x="378.05" y="309.50" width="1.67" height="7.20" fill="#e0e0e0"/>
<rect x="381.27" y="309.50" width="1.67" height="7.20" fill="#e0e0e0"/>
<rect x="384.49" y="309.50" width="1.67" height="7.20" fill="#e0e0e0"/>
<rect x="387.71" y="309.50" width="1.67" height="7.20" fill="#e0e0e0"/>
<rect x="390.35" y="309.70" width="2.82" height="6.80" fill="#f7c2c2" stroke="#ec8c8c" stroke-width="0.5"/>
<rect x="394.14" y="309.50" width="1.67" height="7.20" fill="#e0e0e0"/>
<rect x="397.36" y="309.50" width="1.67" height="7.20" fill="#e0e0e0"/>
<rect x="400.58" y="309.50" width="1.67" height="7.20" fill="#e0e0e0"/>
<rect x="403.79" y="309.50" width="1.67" height="7.20" fill="#e0e0e0"/>
<rect x="407.01" y="309.50" width="1.67" height="7.20" fill="#e0e0e0"/>
<rect x="410.23" y="309.50" width="1.67" height="7.20" fill="#e0e0e0"/>
<rect x="413.44" y="309.50" width="1.67" height="7.20" fill="#e0e0e0"/>
<rect x="416.66" y="309.50" width="1.67" height="7.20" fill="#e0e0e0"/>
<rect x="419.88" y="309.50" width="1.67" height="7.20" fill="#e0e0e0"/>
<rect x="423.10" y="309.50" width="1.67" height="7.20" fill="#e0e0e0"/>
<rect x="426.31" y="309.50" width="1.67" height="7.20" fill="#e0e0e0"/>
<rect x="429.53" y="309.50" width="1.67" height="7.20" fill="#e0e0e0"/>
<rect x="432.55" y="309.50" width="2.07" height="7.20" fill="#0c1cb0"/>
<rect x="435.40" y="309.70" width="2.82" height="6.80" fill="#f7c2c2" stroke="#ec8c8c" stroke-width="0.5"/>
<rect x="438.61" y="309.70" width="2.82" height="6.80" fill="#f7c2c2" stroke="#ec8c8c" stroke-width="0.5"/>
<rect x="441.83" y="309.70" width="2.82" height="6.80" fill="#f7c2c2" stroke="#ec8c8c" stroke-width="0.5"/>
<rect x="445.05" y="309.70" width="2.82" height="6.80" fill="#f7c2c2" stroke="#ec8c8c" stroke-width="0.5"/>
<rect x="448.27" y="309.70" width="2.82" height="6.80" fill="#f7c2c2" stroke="#ec8c8c" stroke-width="0.5"/>
<rect x="451.48" y="309.70" width="2.82" height="6.80" fill="#7aaab8" stroke="#4672b4" stroke-width="0.7"/>
<rect x="59.50" y="340.60" width="3.40" height="6.50" fill="#f6b4b8" stroke="#ec8088" stroke-width="0.5"/>
<rect x="60.21" y="340.70" width="1.98" height="6.30" fill="#d83444"/>
<rect x="63.30" y="340.60" width="3.40" height="6.50" fill="#f6b4b8" stroke="#ec8088" stroke-width="0.5"/>
<rect x="64.01" y="340.70" width="1.98" height="6.30" fill="#d83444"/>
<rect x="67.10" y="340.60" width="3.40" height="6.50" fill="#f6b4b8" stroke="#ec8088" stroke-width="0.5"/>
<rect x="67.81" y="340.70" width="1.98" height="6.30" fill="#d83444"/>
<rect x="70.90" y="340.60" width="3.40" height="6.50" fill="#f6b4b8" stroke="#ec8088" stroke-width="0.5"/>
<rect x="71.61" y="340.70" width="1.98" height="6.30" fill="#d83444"/>
<rect x="74.70" y="340.60" width="3.40" height="6.50" fill="#f6b8b8" stroke="#ec8c8c" stroke-width="0.5"/>
<rect x="75.41" y="340.40" width="1.98" height="6.90" fill="#b80a1a"/>
<rect x="78.50" y="340.60" width="3.40" height="6.50" fill="#f6b8b8" stroke="#ec8c8c" stroke-width="0.5"/>
<rect x="79.21" y="340.40" width="1.98" height="6.90" fill="#b80a1a"/>
<rect x="82.30" y="340.60" width="3.40" height="6.50" fill="#f6b8b8" stroke="#ec8c8c" stroke-width="0.5"/>
<rect x="83.01" y="340.40" width="1.98" height="6.90" fill="#b80a1a"/>
<rect x="86.10" y="340.60" width="3.40" height="6.50" fill="#f6b8b8" stroke="#ec8c8c" stroke-width="0.5"/>
<rect x="86.81" y="340.40" width="1.98" height="6.90" fill="#b80a1a"/>
<rect x="89.90" y="340.60" width="3.40" height="6.50" fill="#f6b8b8" stroke="#ec8c8c" stroke-width="0.5"/>
<rect x="90.61" y="340.40" width="1.98" height="6.90" fill="#b80a1a"/>
<rect x="93.70" y="340.60" width="3.40" height="6.50" fill="#f6b8b8" stroke="#ec8c8c" stroke-width="0.5"/>
<rect x="94.41" y="340.40" width="1.98" height="6.90" fill="#b80a1a"/>
<rect x="97.50" y="340.60" width="3.40" height="6.50" fill="#f6b8b8" stroke="#ec8c8c" stroke-width="0.5"/>
<rect x="98.21" y="340.40" width="1.98" height="6.90" fill="#b80a1a"/>
<rect x="101.30" y="340.60" width="3.40" height="6.50" fill="#f6b8b8" stroke="#ec8c8c" stroke-width="0.5"/>
<rect x="102.01" y="340.40" width="1.98" height="6.90" fill="#b80a1a"/>
<rect x="105.81" y="340.40" width="1.98" height="6.90" fill="#e0e0e0"/>
<circle cx="106.80" cy="343.85" r="1.25" fill="#1a7a1a"/>
<rect x="109.61" y="340.40" width="1.98" height="6.90" fill="#e0e0e0"/>
<circle cx="110.60" cy="343.85" r="1.25" fill="#1a7a1a"/>
<rect x="113.41" y="340.40" width="1.98" height="6.90" fill="#e0e0e0"/>
<circle cx="114.40" cy="343.85" r="1.25" fill="#1a7a1a"/>
<rect x="117.21" y="340.40" width="1.98" height="6.90" fill="#e0e0e0"/>
<circle cx="118.20" cy="343.85" r="1.25" fill="#1a7a1a"/>
<rect x="121.01" y="340.40" width="1.98" height="6.90" fill="#e0e0e0"/>
<circle cx="122.00" cy="343.85" r="1.25" fill="#1a7a1a"/>
<rect x="124.81" y="340.40" width="1.98" height="6.90" fill="#e0e0e0"/>
<circle cx="125.80" cy="343.85" r="1.25" fill="#1a7a1a"/>
<rect x="127.90" y="340.60" width="3.40" height="6.50" fill="#f7c2c2" stroke="#ec8c8c" stroke-width="0.5"/>
<rect x="131.70" y="340.60" width="3.40" height="6.50" fill="#f7c2c2" stroke="#ec8c8c" stroke-width="0.5"/>
<rect x="135.50" y="340.60" width="3.40" height="6.50" fill="#f7c2c2" stroke="#ec8c8c" stroke-width="0.5"/>
<rect x="139.30" y="340.60" width="3.40" height="6.50" fill="#f7c2c2" stroke="#ec8c8c" stroke-width="0.5"/>
<rect x="143.10" y="340.60" width="3.40" height="6.50" fill="#f7c2c2" stroke="#ec8c8c" stroke-width="0.5"/>
<rect x="146.90" y="340.60" width="3.40" height="6.50" fill="#f7c2c2" stroke="#ec8c8c" stroke-width="0.5"/>
<rect x="150.70" y="340.60" width="3.40" height="6.50" fill="#f7c2c2" stroke="#ec8c8c" stroke-width="0.5"/>
<rect x="154.50" y="340.60" width="3.40" height="6.50" fill="#f7c2c2" stroke="#ec8c8c" stroke-width="0.5"/>
<rect x="158.30" y="340.60" width="3.40" height="6.50" fill="#f7c2c2" stroke="#ec8c8c" stroke-width="0.5"/>
<rect x="162.10" y="340.60" width="3.40" height="6.50" fill="#f7c2c2" stroke="#ec8c8c" stroke-width="0.5"/>
<rect x="165.90" y="340.60" width="3.40" height="6.50" fill="#f7c2c2" stroke="#ec8c8c" stroke-width="0.5"/>
<rect x="170.41" y="340.40" width="1.98" height="6.90" fill="#e0e0e0"/>
<rect x="174.21" y="340.40" width="1.98" height="6.90" fill="#e0e0e0"/>
<rect x="178.01" y="340.40" width="1.98" height="6.90" fill="#e0e0e0"/>
<rect x="181.81" y="340.40" width="1.98" height="6.90" fill="#e0e0e0"/>
<rect x="185.61" y="340.40" width="1.98" height="6.90" fill="#e0e0e0"/>
<rect x="189.41" y="340.40" width="1.98" height="6.90" fill="#e0e0e0"/>
<rect x="193.21" y="340.40" width="1.98" height="6.90" fill="#e0e0e0"/>
<rect x="197.01" y="340.40" width="1.98" height="6.90" fill="#e0e0e0"/>
<rect x="200.81" y="340.40" width="1.98" height="6.90" fill="#e0e0e0"/>
<rect x="204.61" y="340.40" width="1.98" height="6.90" fill="#e0e0e0"/>
<rect x="208.41" y="340.40" width="1.98" height="6.90" fill="#e0e0e0"/>
<rect x="212.21" y="340.40" width="1.98" height="6.90" fill="#e0e0e0"/>
<rect x="216.01" y="340.40" width="1.98" height="6.90" fill="#e0e0e0"/>
<rect x="219.81" y="340.40" width="1.98" height="6.90" fill="#e0e0e0"/>
<rect x="223.61" y="340.40" width="1.98" height="6.90" fill="#e0e0e0"/>
<rect x="227.41" y="340.40" width="1.98" height="6.90" fill="#e0e0e0"/>
<rect x="231.21" y="340.40" width="1.98" height="6.90" fill="#e0e0e0"/>
<rect x="235.01" y="340.40" width="1.98" height="6.90" fill="#e0e0e0"/>
<rect x="238.81" y="340.40" width="1.98" height="6.90" fill="#e0e0e0"/>
<rect x="242.61" y="340.40" width="1.98" height="6.90" fill="#e0e0e0"/>
<rect x="246.41" y="340.40" width="1.98" height="6.90" fill="#e0e0e0"/>
<rect x="250.21" y="340.40" width="1.98" height="6.90" fill="#e0e0e0"/>
<rect x="254.01" y="340.40" width="1.98" height="6.90" fill="#e0e0e0"/>
<rect x="257.81" y="340.40" width="1.98" height="6.90" fill="#e0e0e0"/>
<rect x="261.61" y="340.40" width="1.98" height="6.90" fill="#e0e0e0"/>
<rect x="265.41" y="340.40" width="1.98" height="6.90" fill="#e0e0e0"/>
<rect x="269.21" y="340.40" width="1.98" height="6.90" fill="#e0e0e0"/>
<rect x="273.01" y="340.40" width="1.98" height="6.90" fill="#e0e0e0"/>
<rect x="276.81" y="340.40" width="1.98" height="6.90" fill="#e0e0e0"/>
<rect x="280.61" y="340.40" width="1.98" height="6.90" fill="#e0e0e0"/>
<rect x="284.41" y="340.40" width="1.98" height="6.90" fill="#e0e0e0"/>
<rect x="288.21" y="340.40" width="1.98" height="6.90" fill="#e0e0e0"/>
<rect x="292.01" y="340.40" width="1.98" height="6.90" fill="#e0e0e0"/>
<rect x="295.81" y="340.40" width="1.98" height="6.90" fill="#e0e0e0"/>
<rect x="299.61" y="340.40" width="1.98" height="6.90" fill="#e0e0e0"/>
<rect x="60.21" y="349.80" width="1.98" height="6.90" fill="#e0e0e0"/>
<rect x="64.01" y="349.80" width="1.98" height="6.90" fill="#e0e0e0"/>
<rect x="67.81" y="349.80" width="1.98" height="6.90" fill="#e0e0e0"/>
<rect x="71.61" y="349.80" width="1.98" height="6.90" fill="#e0e0e0"/>
<rect x="75.41" y="349.80" width="1.98" height="6.90" fill="#e0e0e0"/>
<circle cx="76.40" cy="353.25" r="1.25" fill="#1a7a1a"/>
<rect x="79.21" y="349.80" width="1.98" height="6.90" fill="#e0e0e0"/>
<rect x="83.01" y="349.80" width="1.98" height="6.90" fill="#e0e0e0"/>
<rect x="86.81" y="349.80" width="1.98" height="6.90" fill="#e0e0e0"/>
<rect x="90.61" y="349.80" width="1.98" height="6.90" fill="#e0e0e0"/>
<rect x="94.41" y="349.80" width="1.98" height="6.90" fill="#e0e0e0"/>
<rect x="98.21" y="349.80" width="1.98" height="6.90" fill="#e0e0e0"/>
<rect x="102.01" y="349.80" width="1.98" height="6.90" fill="#e0e0e0"/>
<rect x="105.81" y="349.80" width="1.98" height="6.90" fill="#e0e0e0"/>
<rect x="109.61" y="349.80" width="1.98" height="6.90" fill="#e0e0e0"/>
<rect x="113.41" y="349.80" width="1.98" height="6.90" fill="#e0e0e0"/>
<rect x="117.21" y="349.80" width="1.98" height="6.90" fill="#e0e0e0"/>
<rect x="121.01" y="349.80" width="1.98" height="6.90" fill="#e0e0e0"/>
<rect x="124.81" y="349.80" width="1.98" height="6.90" fill="#e0e0e0"/>
<rect x="128.61" y="349.80" width="1.98" height="6.90" fill="#e0e0e0"/>
<rect x="132.41" y="349.80" width="1.98" height="6.90" fill="#e0e0e0"/>
<rect x="136.21" y="349.80" width="1.98" height="6.90" fill="#e0e0e0"/>
<rect x="140.01" y="349.80" width="1.98" height="6.90" fill="#e0e0e0"/>
<rect x="143.81" y="349.80" width="1.98" height="6.90" fill="#e0e0e0"/>
<rect x="147.61" y="349.80" width="1.98" height="6.90" fill="#e0e0e0"/>
<rect x="151.41" y="349.80" width="1.98" height="6.90" fill="#e0e0e0"/>
<rect x="155.21" y="349.80" width="1.98" height="6.90" fill="#e0e0e0"/>
<rect x="159.01" y="349.80" width="1.98" height="6.90" fill="#e0e0e0"/>
<rect x="162.81" y="349.80" width="1.98" height="6.90" fill="#e0e0e0"/>
<rect x="166.61" y="349.80" width="1.98" height="6.90" fill="#e0e0e0"/>
<rect x="170.26" y="349.80" width="2.28" height="6.90" fill="#d8101c"/>
<rect x="174.21" y="349.80" width="1.98" height="6.90" fill="#e0e0e0"/>
<circle cx="175.20" cy="353.25" r="1.25" fill="#1a7a1a"/>
<rect x="177.30" y="350.00" width="3.40" height="6.50" fill="#f7c2c2" stroke="#ec8c8c" stroke-width="0.5"/>
<rect x="181.10" y="350.00" width="3.40" height="6.50" fill="#f7c2c2" stroke="#ec8c8c" stroke-width="0.5"/>
<rect x="184.90" y="350.00" width="3.40" height="6.50" fill="#f7c2c2" stroke="#ec8c8c" stroke-width="0.5"/>
<rect x="188.70" y="350.00" width="3.40" height="6.50" fill="#f7c2c2" stroke="#ec8c8c" stroke-width="0.5"/>
<rect x="192.50" y="350.00" width="3.40" height="6.50" fill="#f7c2c2" stroke="#ec8c8c" stroke-width="0.5"/>
<rect x="196.30" y="350.00" width="3.40" height="6.50" fill="#f7c2c2" stroke="#ec8c8c" stroke-width="0.5"/>
<rect x="200.10" y="350.00" width="3.40" height="6.50" fill="#f7c2c2" stroke="#ec8c8c" stroke-width="0.5"/>
<rect x="203.90" y="350.00" width="3.40" height="6.50" fill="#f7c2c2" stroke="#ec8c8c" stroke-width="0.5"/>
<rect x="208.41" y="349.80" width="1.98" height="6.90" fill="#e0e0e0"/>
<rect x="212.21" y="349.80" width="1.98" height="6.90" fill="#e0e0e0"/>
<rect x="216.01" y="349.80" width="1.98" height="6.90" fill="#e0e0e0"/>
<rect x="219.81" y="349.80" width="1.98" height="6.90" fill="#e0e0e0"/>
<rect x="223.61" y="349.80" width="1.98" height="6.90" fill="#e0e0e0"/>
<rect x="227.41" y="349.80" width="1.98" height="6.90" fill="#e0e0e0"/>
<rect x="231.21" y="349.80" width="1.98" height="6.90" fill="#e0e0e0"/>
<rect x="235.01" y="349.80" width="1.98" height="6.90" fill="#e0e0e0"/>
<rect x="238.81" y="349.80" width="1.98" height="6.90" fill="#e0e0e0"/>
<rect x="242.61" y="349.80" width="1.98" height="6.90" fill="#e0e0e0"/>
<rect x="246.41" y="349.80" width="1.98" height="6.90" fill="#e0e0e0"/>
<rect x="250.21" y="349.80" width="1.98" height="6.90" fill="#e0e0e0"/>
<rect x="254.01" y="349.80" width="1.98" height="6.90" fill="#e0e0e0"/>
<rect x="257.81" y="349.80" width="1.98" height="6.90" fill="#e0e0e0"/>
<rect x="261.61" y="349.80" width="1.98" height="6.90" fill="#e0e0e0"/>
<rect x="265.41" y="349.80" width="1.98" height="6.90" fill="#e0e0e0"/>
<rect x="269.21" y="349.80" width="1.98" height="6.90" fill="#e0e0e0"/>
<rect x="273.01" y="349.80" width="1.98" height="6.90" fill="#e0e0e0"/>
<rect x="276.81" y="349.80" width="1.98" height="6.90" fill="#e0e0e0"/>
<rect x="280.61" y="349.80" width="1.98" height="6.90" fill="#e0e0e0"/>
<rect x="284.41" y="349.80" width="1.98" height="6.90" fill="#e0e0e0"/>
<rect x="288.21" y="349.80" width="1.98" height="6.90" fill="#e0e0e0"/>
<rect x="292.01" y="349.80" width="1.98" height="6.90" fill="#e0e0e0"/>
<rect x="295.81" y="349.80" width="1.98" height="6.90" fill="#e0e0e0"/>
<rect x="299.61" y="349.80" width="1.98" height="6.90" fill="#e0e0e0"/>
<rect x="60.21" y="359.20" width="1.98" height="6.90" fill="#e0e0e0"/>
<rect x="64.01" y="359.20" width="1.98" height="6.90" fill="#e0e0e0"/>
<rect x="67.81" y="359.20" width="1.98" height="6.90" fill="#e0e0e0"/>
<rect x="71.61" y="359.20" width="1.98" height="6.90" fill="#e0e0e0"/>
<rect x="75.26" y="359.20" width="2.28" height="6.90" fill="#d8101c"/>
<rect x="79.06" y="359.20" width="2.28" height="6.90" fill="#d8101c"/>
<rect x="83.01" y="359.20" width="1.98" height="6.90" fill="#e0e0e0"/>
<rect x="86.81" y="359.20" width="1.98" height="6.90" fill="#e0e0e0"/>
<rect x="90.61" y="359.20" width="1.98" height="6.90" fill="#e0e0e0"/>
<rect x="94.41" y="359.20" width="1.98" height="6.90" fill="#e0e0e0"/>
<rect x="98.21" y="359.20" width="1.98" height="6.90" fill="#e0e0e0"/>
<rect x="102.01" y="359.20" width="1.98" height="6.90" fill="#e0e0e0"/>
<rect x="105.81" y="359.20" width="1.98" height="6.90" fill="#e0e0e0"/>
<rect x="109.61" y="359.20" width="1.98" height="6.90" fill="#e0e0e0"/>
<rect x="113.41" y="359.20" width="1.98" height="6.90" fill="#e0e0e0"/>
<rect x="117.21" y="359.20" width="1.98" height="6.90" fill="#e0e0e0"/>
<rect x="121.01" y="359.20" width="1.98" height="6.90" fill="#e0e0e0"/>
<rect x="124.81" y="359.20" width="1.98" height="6.90" fill="#e0e0e0"/>
<rect x="127.90" y="359.40" width="3.40" height="6.50" fill="#f7c2c2" stroke="#ec8c8c" stroke-width="0.5"/>
<rect x="131.70" y="359.40" width="3.40" height="6.50" fill="#f7c2c2" stroke="#ec8c8c" stroke-width="0.5"/>
<rect x="136.21" y="359.20" width="1.98" height="6.90" fill="#e0e0e0"/>
<rect x="140.01" y="359.20" width="1.98" height="6.90" fill="#e0e0e0"/>
<rect x="143.81" y="359.20" width="1.98" height="6.90" fill="#e0e0e0"/>
<rect x="147.61" y="359.20" width="1.98" height="6.90" fill="#e0e0e0"/>
<rect x="151.41" y="359.20" width="1.98" height="6.90" fill="#e0e0e0"/>
<rect x="155.21" y="359.20" width="1.98" height="6.90" fill="#e0e0e0"/>
<rect x="159.01" y="359.20" width="1.98" height="6.90" fill="#e0e0e0"/>
<rect x="162.81" y="359.20" width="1.98" height="6.90" fill="#e0e0e0"/>
<rect x="166.61" y="359.20" width="1.98" height="6.90" fill="#e0e0e0"/>
<rect x="170.41" y="359.20" width="1.98" height="6.90" fill="#e0e0e0"/>
<rect x="174.21" y="359.20" width="1.98" height="6.90" fill="#e0e0e0"/>
<rect x="177.30" y="359.40" width="3.40" height="6.50" fill="#f7c2c2" stroke="#ec8c8c" stroke-width="0.5"/>
<rect x="181.81" y="359.20" width="1.98" height="6.90" fill="#e0e0e0"/>
<rect x="185.61" y="359.20" width="1.98" height="6.90" fill="#e0e0e0"/>
<rect x="189.41" y="359.20" width="1.98" height="6.90" fill="#e0e0e0"/>
<rect x="193.21" y="359.20" width="1.98" height="6.90" fill="#e0e0e0"/>
<rect x="197.01" y="359.20" width="1.98" height="6.90" fill="#e0e0e0"/>
<rect x="200.81" y="359.20" width="1.98" height="6.90" fill="#e0e0e0"/>
<rect x="204.61" y="359.20" width="1.98" height="6.90" fill="#e0e0e0"/>
<rect x="208.26" y="359.20" width="2.28" height="6.90" fill="#d8101c"/>
<rect x="211.50" y="359.40" width="3.40" height="6.50" fill="#f7c2c2" stroke="#ec8c8c" stroke-width="0.5"/>
<rect x="215.30" y="359.40" width="3.40" height="6.50" fill="#f7c2c2" stroke="#ec8c8c" stroke-width="0.5"/>
<rect x="219.10" y="359.40" width="3.40" height="6.50" fill="#f7c2c2" stroke="#ec8c8c" stroke-width="0.5"/>
<rect x="222.90" y="359.40" width="3.40" height="6.50" fill="#f7c2c2" stroke="#ec8c8c" stroke-width="0.5"/>
<rect x="226.70" y="359.40" width="3.40" height="6.50" fill="#f7c2c2" stroke="#ec8c8c" stroke-width="0.5"/>
<rect x="230.50" y="359.40" width="3.40" height="6.50" fill="#f7c2c2" stroke="#ec8c8c" stroke-width="0.5"/>
<rect x="234.30" y="359.40" width="3.40" height="6.50" fill="#f7c2c2" stroke="#ec8c8c" stroke-width="0.5"/>
<rect x="238.81" y="359.20" width="1.98" height="6.90" fill="#e0e0e0"/>
<rect x="242.61" y="359.20" width="1.98" height="6.90" fill="#e0e0e0"/>
<rect x="246.41" y="359.20" width="1.98" height="6.90" fill="#e0e0e0"/>
<rect x="250.21" y="359.20" width="1.98" height="6.90" fill="#e0e0e0"/>
<rect x="254.01" y="359.20" width="1.98" height="6.90" fill="#e0e0e0"/>
<rect x="257.81" y="359.20" width="1.98" height="6.90" fill="#e0e0e0"/>
<rect x="261.61" y="359.20" width="1.98" height="6.90" fill="#e0e0e0"/>
<rect x="265.41" y="359.20" width="1.98" height="6.90" fill="#e0e0e0"/>
<rect x="269.21" y="359.20" width="1.98" height="6.90" fill="#e0e0e0"/>
<rect x="273.01" y="359.20" width="1.98" height="6.90" fill="#e0e0e0"/>
<rect x="276.81" y="359.20" width="1.98" height="6.90" fill="#e0e0e0"/>
<rect x="280.61" y="359.20" width="1.98" height="6.90" fill="#e0e0e0"/>
<rect x="284.41" y="359.20" width="1.98" height="6.90" fill="#e0e0e0"/>
<rect x="288.21" y="359.20" width="1.98" height="6.90" fill="#e0e0e0"/>
<rect x="292.01" y="359.20" width="1.98" height="6.90" fill="#e0e0e0"/>
<rect x="295.81" y="359.20" width="1.98" height="6.90" fill="#e0e0e0"/>
<rect x="299.61" y="359.20" width="1.98" height="6.90" fill="#e0e0e0"/>
<rect x="59.50" y="368.60" width="3.40" height="6.50" fill="#f7c2c2" stroke="#ec8c8c" stroke-width="0.5"/>
<rect x="64.01" y="368.40" width="1.98" height="6.90" fill="#e0e0e0"/>
<rect x="67.81" y="368.40" width="1.98" height="6.90" fill="#e0e0e0"/>
<rect x="71.61" y="368.40" width="1.98" height="6.90" fill="#e0e0e0"/>
<rect x="75.41" y="368.40" width="1.98" height="6.90" fill="#e0e0e0"/>
<rect x="79.21" y="368.40" width="1.98" height="6.90" fill="#e0e0e0"/>
<rect x="82.86" y="368.40" width="2.28" height="6.90" fill="#d8101c"/>
<rect x="86.81" y="368.40" width="1.98" height="6.90" fill="#e0e0e0"/>
<rect x="90.61" y="368.40" width="1.98" height="6.90" fill="#e0e0e0"/>
<rect x="94.41" y="368.40" width="1.98" height="6.90" fill="#e0e0e0"/>
<rect x="98.21" y="368.40" width="1.98" height="6.90" fill="#e0e0e0"/>
<rect x="102.01" y="368.40" width="1.98" height="6.90" fill="#e0e0e0"/>
<rect x="105.10" y="368.60" width="3.40" height="6.50" fill="#f7c2c2" stroke="#ec8c8c" stroke-width="0.5"/>
<rect x="109.61" y="368.40" width="1.98" height="6.90" fill="#e0e0e0"/>
<rect x="113.41" y="368.40" width="1.98" height="6.90" fill="#e0e0e0"/>
<rect x="117.21" y="368.40" width="1.98" height="6.90" fill="#e0e0e0"/>
<rect x="121.01" y="368.40" width="1.98" height="6.90" fill="#e0e0e0"/>
<rect x="124.81" y="368.40" width="1.98" height="6.90" fill="#e0e0e0"/>
<rect x="127.90" y="368.60" width="3.40" height="6.50" fill="#f7c2c2" stroke="#ec8c8c" stroke-width="0.5"/>
<rect x="132.41" y="368.40" width="1.98" height="6.90" fill="#e0e0e0"/>
<rect x="135.50" y="368.60" width="3.40" height="6.50" fill="#f7c2c2" stroke="#ec8c8c" stroke-width="0.5"/>
<rect x="139.30" y="368.60" width="3.40" height="6.50" fill="#f7c2c2" stroke="#ec8c8c" stroke-width="0.5"/>
<rect x="143.81" y="368.40" width="1.98" height="6.90" fill="#e0e0e0"/>
<rect x="147.61" y="368.40" width="1.98" height="6.90" fill="#e0e0e0"/>
<rect x="151.41" y="368.40" width="1.98" height="6.90" fill="#e0e0e0"/>
<rect x="155.21" y="368.40" width="1.98" height="6.90" fill="#e0e0e0"/>
<rect x="159.01" y="368.40" width="1.98" height="6.90" fill="#e0e0e0"/>
<rect x="162.81" y="368.40" width="1.98" height="6.90" fill="#e0e0e0"/>
<rect x="166.61" y="368.40" width="1.98" height="6.90" fill="#e0e0e0"/>
<rect x="170.41" y="368.40" width="1.98" height="6.90" fill="#e0e0e0"/>
<rect x="174.21" y="368.40" width="1.98" height="6.90" fill="#e0e0e0"/>
<rect x="178.01" y="368.40" width="1.98" height="6.90" fill="#e0e0e0"/>
<rect x="181.10" y="368.60" width="3.40" height="6.50" fill="#f7c2c2" stroke="#ec8c8c" stroke-width="0.5"/>
<rect x="184.90" y="368.60" width="3.40" height="6.50" fill="#f7c2c2" stroke="#ec8c8c" stroke-width="0.5"/>
<rect x="189.41" y="368.40" width="1.98" height="6.90" fill="#e0e0e0"/>
<rect x="193.21" y="368.40" width="1.98" height="6.90" fill="#e0e0e0"/>
<rect x="197.01" y="368.40" width="1.98" height="6.90" fill="#e0e0e0"/>
<rect x="200.81" y="368.40" width="1.98" height="6.90" fill="#e0e0e0"/>
<rect x="204.61" y="368.40" width="1.98" height="6.90" fill="#e0e0e0"/>
<rect x="208.41" y="368.40" width="1.98" height="6.90" fill="#e0e0e0"/>
<rect x="211.50" y="368.60" width="3.40" height="6.50" fill="#f7c2c2" stroke="#ec8c8c" stroke-width="0.5"/>
<rect x="215.40" y="368.70" width="3.20" height="6.30" fill="#c4d6ee" stroke="#3a66b0" stroke-width="0.8"/>
<rect x="219.81" y="368.40" width="1.98" height="6.90" fill="#e0e0e0"/>
<rect x="223.61" y="368.40" width="1.98" height="6.90" fill="#e0e0e0"/>
<rect x="227.41" y="368.40" width="1.98" height="6.90" fill="#e0e0e0"/>
<rect x="231.21" y="368.40" width="1.98" height="6.90" fill="#e0e0e0"/>
<rect x="235.01" y="368.40" width="1.98" height="6.90" fill="#e0e0e0"/>
<rect x="238.66" y="368.40" width="2.28" height="6.90" fill="#d8101c"/>
<rect x="241.90" y="368.60" width="3.40" height="6.50" fill="#f7c2c2" stroke="#ec8c8c" stroke-width="0.5"/>
<rect x="245.80" y="368.70" width="3.20" height="6.30" fill="#c4d6ee" stroke="#3a66b0" stroke-width="0.8"/>
<rect x="250.21" y="368.40" width="1.98" height="6.90" fill="#e0e0e0"/>
<rect x="254.01" y="368.40" width="1.98" height="6.90" fill="#e0e0e0"/>
<rect x="257.81" y="368.40" width="1.98" height="6.90" fill="#e0e0e0"/>
<rect x="261.61" y="368.40" width="1.98" height="6.90" fill="#e0e0e0"/>
<rect x="265.41" y="368.40" width="1.98" height="6.90" fill="#e0e0e0"/>
<rect x="269.21" y="368.40" width="1.98" height="6.90" fill="#e0e0e0"/>
<rect x="273.01" y="368.40" width="1.98" height="6.90" fill="#e0e0e0"/>
<rect x="276.81" y="368.40" width="1.98" height="6.90" fill="#e0e0e0"/>
<rect x="280.61" y="368.40" width="1.98" height="6.90" fill="#e0e0e0"/>
<rect x="284.41" y="368.40" width="1.98" height="6.90" fill="#e0e0e0"/>
<rect x="288.21" y="368.40" width="1.98" height="6.90" fill="#e0e0e0"/>
<rect x="292.01" y="368.40" width="1.98" height="6.90" fill="#e0e0e0"/>
<rect x="295.81" y="368.40" width="1.98" height="6.90" fill="#e0e0e0"/>
<rect x="299.61" y="368.40" width="1.98" height="6.90" fill="#e0e0e0"/>
<rect x="60.21" y="378.00" width="1.98" height="6.90" fill="#e0e0e0"/>
<rect x="64.01" y="378.00" width="1.98" height="6.90" fill="#e0e0e0"/>
<circle cx="65.00" cy="381.45" r="1.25" fill="#1a7a1a"/>
<rect x="67.81" y="378.00" width="1.98" height="6.90" fill="#e0e0e0"/>
<rect x="71.61" y="378.00" width="1.98" height="6.90" fill="#e0e0e0"/>
<rect x="75.41" y="378.00" width="1.98" height="6.90" fill="#e0e0e0"/>
<rect x="79.21" y="378.00" width="1.98" height="6.90" fill="#e0e0e0"/>
<rect x="83.01" y="378.00" width="1.98" height="6.90" fill="#e0e0e0"/>
<rect x="86.81" y="378.00" width="1.98" height="6.90" fill="#e0e0e0"/>
<rect x="90.61" y="378.00" width="1.98" height="6.90" fill="#e0e0e0"/>
<rect x="94.41" y="378.00" width="1.98" height="6.90" fill="#e0e0e0"/>
<rect x="98.21" y="378.00" width="1.98" height="6.90" fill="#e0e0e0"/>
<rect x="102.01" y="378.00" width="1.98" height="6.90" fill="#e0e0e0"/>
<rect x="105.81" y="378.00" width="1.98" height="6.90" fill="#e0e0e0"/>
<rect x="109.61" y="378.00" width="1.98" height="6.90" fill="#e0e0e0"/>
<rect x="113.41" y="378.00" width="1.98" height="6.90" fill="#e0e0e0"/>
<rect x="117.21" y="378.00" width="1.98" height="6.90" fill="#e0e0e0"/>
<rect x="121.01" y="378.00" width="1.98" height="6.90" fill="#e0e0e0"/>
<rect x="124.81" y="378.00" width="1.98" height="6.90" fill="#e0e0e0"/>
<rect x="128.61" y="378.00" width="1.98" height="6.90" fill="#e0e0e0"/>
<rect x="132.41" y="378.00" width="1.98" height="6.90" fill="#e0e0e0"/>
<rect x="136.21" y="378.00" width="1.98" height="6.90" fill="#e0e0e0"/>
<rect x="140.01" y="378.00" width="1.98" height="6.90" fill="#e0e0e0"/>
<rect x="143.20" y="378.30" width="3.20" height="6.30" fill="#c4d6ee" stroke="#3a66b0" stroke-width="0.8"/>
<rect x="147.61" y="378.00" width="1.98" height="6.90" fill="#e0e0e0"/>
<rect x="151.41" y="378.00" width="1.98" height="6.90" fill="#e0e0e0"/>
<rect x="155.21" y="378.00" width="1.98" height="6.90" fill="#e0e0e0"/>
<rect x="159.01" y="378.00" width="1.98" height="6.90" fill="#e0e0e0"/>
<rect x="162.81" y="378.00" width="1.98" height="6.90" fill="#e0e0e0"/>
<rect x="166.61" y="378.00" width="1.98" height="6.90" fill="#e0e0e0"/>
<rect x="169.80" y="378.30" width="3.20" height="6.30" fill="#c4d6ee" stroke="#3a66b0" stroke-width="0.8"/>
<rect x="174.21" y="378.00" width="1.98" height="6.90" fill="#e0e0e0"/>
<rect x="178.01" y="378.00" width="1.98" height="6.90" fill="#e0e0e0"/>
<rect x="181.81" y="378.00" width="1.98" height="6.90" fill="#e0e0e0"/>
<rect x="185.61" y="378.00" width="1.98" height="6.90" fill="#e0e0e0"/>
<rect x="188.70" y="378.20" width="3.40" height="6.50" fill="#f7c2c2" stroke="#ec8c8c" stroke-width="0.5"/>
<rect x="193.21" y="378.00" width="1.98" height="6.90" fill="#e0e0e0"/>
<rect x="197.01" y="378.00" width="1.98" height="6.90" fill="#e0e0e0"/>
<rect x="200.81" y="378.00" width="1.98" height="6.90" fill="#e0e0e0"/>
<rect x="204.61" y="378.00" width="1.98" height="6.90" fill="#e0e0e0"/>
<rect x="208.41" y="378.00" width="1.98" height="6.90" fill="#e0e0e0"/>
<rect x="212.21" y="378.00" width="1.98" height="6.90" fill="#e0e0e0"/>
<rect x="216.01" y="378.00" width="1.98" height="6.90" fill="#e0e0e0"/>
<rect x="219.81" y="378.00" width="1.98" height="6.90" fill="#e0e0e0"/>
<rect x="223.61" y="378.00" width="1.98" height="6.90" fill="#e0e0e0"/>
<rect x="227.41" y="378.00" width="1.98" height="6.90" fill="#e0e0e0"/>
<rect x="231.21" y="378.00" width="1.98" height="6.90" fill="#e0e0e0"/>
<rect x="235.01" y="378.00" width="1.98" height="6.90" fill="#e0e0e0"/>
<rect x="238.81" y="378.00" width="1.98" height="6.90" fill="#e0e0e0"/>
<rect x="242.61" y="378.00" width="1.98" height="6.90" fill="#e0e0e0"/>
<rect x="246.41" y="378.00" width="1.98" height="6.90" fill="#e0e0e0"/>
<rect x="249.50" y="378.20" width="3.40" height="6.50" fill="#a8c0ea" stroke="#6a90d0" stroke-width="0.5"/>
<rect x="250.11" y="378.00" width="2.18" height="6.90" fill="#0a18a0"/>
<rect x="253.81" y="378.00" width="2.38" height="6.90" fill="#0c1cb0"/>
<rect x="257.10" y="378.20" width="3.40" height="6.50" fill="#f7c2c2" stroke="#ec8c8c" stroke-width="0.5"/>
<rect x="260.90" y="378.20" width="3.40" height="6.50" fill="#f7c2c2" stroke="#ec8c8c" stroke-width="0.5"/>
<rect x="264.70" y="378.20" width="3.40" height="6.50" fill="#f7c2c2" stroke="#ec8c8c" stroke-width="0.5"/>
<rect x="268.60" y="378.30" width="3.20" height="6.30" fill="#c4d6ee" stroke="#3a66b0" stroke-width="0.8"/>
<rect x="272.40" y="378.30" width="3.20" height="6.30" fill="#c4d6ee" stroke="#3a66b0" stroke-width="0.8"/>
<rect x="276.20" y="378.30" width="3.20" height="6.30" fill="#c4d6ee" stroke="#3a66b0" stroke-width="0.8"/>
<rect x="280.61" y="378.00" width="1.98" height="6.90" fill="#e0e0e0"/>
<rect x="284.41" y="378.00" width="1.98" height="6.90" fill="#e0e0e0"/>
<rect x="288.21" y="378.00" width="1.98" height="6.90" fill="#e0e0e0"/>
<rect x="292.01" y="378.00" width="1.98" height="6.90" fill="#e0e0e0"/>
<rect x="295.81" y="378.00" width="1.98" height="6.90" fill="#e0e0e0"/>
<rect x="299.61" y="378.00" width="1.98" height="6.90" fill="#e0e0e0"/>
<rect x="60.21" y="387.50" width="1.98" height="6.90" fill="#e0e0e0"/>
<rect x="64.01" y="387.50" width="1.98" height="6.90" fill="#e0e0e0"/>
<rect x="67.81" y="387.50" width="1.98" height="6.90" fill="#e0e0e0"/>
<rect x="71.61" y="387.50" width="1.98" height="6.90" fill="#e0e0e0"/>
<rect x="75.41" y="387.50" width="1.98" height="6.90" fill="#e0e0e0"/>
<rect x="79.21" y="387.50" width="1.98" height="6.90" fill="#e0e0e0"/>
<rect x="83.01" y="387.50" width="1.98" height="6.90" fill="#e0e0e0"/>
<rect x="86.81" y="387.50" width="1.98" height="6.90" fill="#e0e0e0"/>
<rect x="90.61" y="387.50" width="1.98" height="6.90" fill="#e0e0e0"/>
<rect x="94.41" y="387.50" width="1.98" height="6.90" fill="#e0e0e0"/>
<rect x="98.21" y="387.50" width="1.98" height="6.90" fill="#e0e0e0"/>
<rect x="102.01" y="387.50" width="1.98" height="6.90" fill="#e0e0e0"/>
<rect x="105.81" y="387.50" width="1.98" height="6.90" fill="#e0e0e0"/>
<rect x="109.00" y="387.80" width="3.20" height="6.30" fill="#c4d6ee" stroke="#3a66b0" stroke-width="0.8"/>
<rect x="113.41" y="387.50" width="1.98" height="6.90" fill="#e0e0e0"/>
<rect x="117.21" y="387.50" width="1.98" height="6.90" fill="#e0e0e0"/>
<rect x="121.01" y="387.50" width="1.98" height="6.90" fill="#e0e0e0"/>
<rect x="124.81" y="387.50" width="1.98" height="6.90" fill="#e0e0e0"/>
<rect x="128.61" y="387.50" width="1.98" height="6.90" fill="#e0e0e0"/>
<rect x="132.41" y="387.50" width="1.98" height="6.90" fill="#e0e0e0"/>
<rect x="136.21" y="387.50" width="1.98" height="6.90" fill="#e0e0e0"/>
<rect x="140.01" y="387.50" width="1.98" height="6.90" fill="#e0e0e0"/>
<rect x="143.81" y="387.50" width="1.98" height="6.90" fill="#e0e0e0"/>
<rect x="146.90" y="387.70" width="3.40" height="6.50" fill="#f7c2c2" stroke="#ec8c8c" stroke-width="0.5"/>
<rect x="150.70" y="387.70" width="3.40" height="6.50" fill="#f7c2c2" stroke="#ec8c8c" stroke-width="0.5"/>
<rect x="155.21" y="387.50" width="1.98" height="6.90" fill="#e0e0e0"/>
<rect x="159.01" y="387.50" width="1.98" height="6.90" fill="#e0e0e0"/>
<rect x="162.81" y="387.50" width="1.98" height="6.90" fill="#e0e0e0"/>
<rect x="166.61" y="387.50" width="1.98" height="6.90" fill="#e0e0e0"/>
<rect x="170.41" y="387.50" width="1.98" height="6.90" fill="#e0e0e0"/>
<rect x="174.21" y="387.50" width="1.98" height="6.90" fill="#e0e0e0"/>
<rect x="178.01" y="387.50" width="1.98" height="6.90" fill="#e0e0e0"/>
<rect x="181.81" y="387.50" width="1.98" height="6.90" fill="#e0e0e0"/>
<rect x="185.61" y="387.50" width="1.98" height="6.90" fill="#e0e0e0"/>
<rect x="189.41" y="387.50" width="1.98" height="6.90" fill="#e0e0e0"/>
<rect x="192.50" y="387.70" width="3.40" height="6.50" fill="#f7c2c2" stroke="#ec8c8c" stroke-width="0.5"/>
<circle cx="194.20" cy="390.95" r="1.25" fill="#1a7a1a"/>
<rect x="196.30" y="387.70" width="3.40" height="6.50" fill="#f7c2c2" stroke="#ec8c8c" stroke-width="0.5"/>
<rect x="200.81" y="387.50" width="1.98" height="6.90" fill="#e0e0e0"/>
<rect x="204.61" y="387.50" width="1.98" height="6.90" fill="#e0e0e0"/>
<rect x="208.41" y="387.50" width="1.98" height="6.90" fill="#e0e0e0"/>
<rect x="212.21" y="387.50" width="1.98" height="6.90" fill="#e0e0e0"/>
<rect x="216.01" y="387.50" width="1.98" height="6.90" fill="#e0e0e0"/>
<rect x="219.81" y="387.50" width="1.98" height="6.90" fill="#e0e0e0"/>
<rect x="223.61" y="387.50" width="1.98" height="6.90" fill="#e0e0e0"/>
<rect x="227.41" y="387.50" width="1.98" height="6.90" fill="#e0e0e0"/>
<rect x="231.21" y="387.50" width="1.98" height="6.90" fill="#e0e0e0"/>
<rect x="235.01" y="387.50" width="1.98" height="6.90" fill="#e0e0e0"/>
<rect x="238.66" y="387.50" width="2.28" height="6.90" fill="#d8101c"/>
<rect x="242.61" y="387.50" width="1.98" height="6.90" fill="#e0e0e0"/>
<rect x="245.70" y="387.70" width="3.40" height="6.50" fill="#f7c2c2" stroke="#ec8c8c" stroke-width="0.5"/>
<rect x="250.21" y="387.50" width="1.98" height="6.90" fill="#e0e0e0"/>
<rect x="254.01" y="387.50" width="1.98" height="6.90" fill="#e0e0e0"/>
<rect x="257.81" y="387.50" width="1.98" height="6.90" fill="#e0e0e0"/>
<rect x="261.61" y="387.50" width="1.98" height="6.90" fill="#e0e0e0"/>
<rect x="265.41" y="387.50" width="1.98" height="6.90" fill="#e0e0e0"/>
<rect x="269.21" y="387.50" width="1.98" height="6.90" fill="#e0e0e0"/>
<rect x="273.01" y="387.50" width="1.98" height="6.90" fill="#e0e0e0"/>
<rect x="276.81" y="387.50" width="1.98" height="6.90" fill="#e0e0e0"/>
<rect x="280.46" y="387.50" width="2.28" height="6.90" fill="#d8101c"/>
<rect x="284.26" y="387.50" width="2.28" height="6.90" fill="#d8101c"/>
<rect x="288.06" y="387.50" width="2.28" height="6.90" fill="#d8101c"/>
<rect x="292.01" y="387.50" width="1.98" height="6.90" fill="#e0e0e0"/>
<circle cx="293.00" cy="390.95" r="1.25" fill="#1a7a1a"/>
<rect x="295.81" y="387.50" width="1.98" height="6.90" fill="#e0e0e0"/>
<circle cx="296.80" cy="390.95" r="1.25" fill="#1a7a1a"/>
<rect x="299.00" y="387.80" width="3.20" height="6.30" fill="#c4d6ee" stroke="#3a66b0" stroke-width="0.8"/>
<rect x="63.00" y="403.70" width="2.00" height="7.70" fill="#e0101c"/>
<text x="68.10" y="410.60" font-size="9.69" textLength="48.40" lengthAdjust="spacingAndGlyphs">Amplification</text>
<rect x="124.60" y="403.70" width="2.00" height="7.70" fill="#1020c8"/>
<text x="128.60" y="410.60" font-size="9.69" textLength="54.40" lengthAdjust="spacingAndGlyphs">Deep Deletion</text>
<circle cx="190.8" cy="407.6" r="1.3" fill="#1a7a1a"/>
<text x="196.30" y="410.60" font-size="9.69" textLength="32.90" lengthAdjust="spacingAndGlyphs">Mutation</text>
<rect x="241.20" y="403.90" width="2.90" height="7.30" fill="#fbe0e0" stroke="#ee9090" stroke-width="0.7"/>
<text x="246.10" y="410.60" font-size="9.69" textLength="76.20" lengthAdjust="spacingAndGlyphs">mRNA Upregulation</text>
<rect x="333.30" y="403.90" width="3.20" height="7.30" fill="#dde8f5" stroke="#5f8fc8" stroke-width="0.7"/>
<text x="339.20" y="410.60" font-size="9.69" textLength="87.80" lengthAdjust="spacingAndGlyphs">mRNA Downregulation</text>
</svg>
</body></html>
